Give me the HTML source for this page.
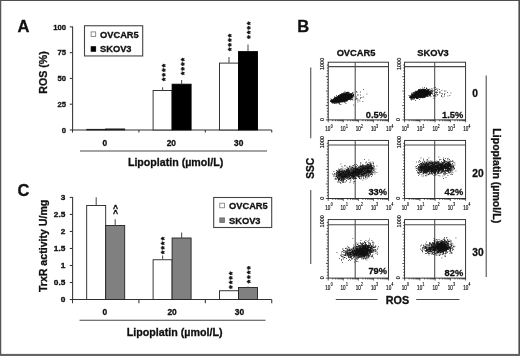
<!DOCTYPE html>
<html lang="en"><head><meta charset="utf-8"><title>Figure</title>
<style>
html,body{margin:0;padding:0;background:#fff;}
body{width:520px;height:356px;overflow:hidden;}
svg{display:block;font-family:"Liberation Sans",Arial,Helvetica,sans-serif;}
.b{font-weight:bold;stroke:#111;stroke-width:0.3px;}
.st{font-weight:bold;stroke:#111;stroke-width:0.45px;letter-spacing:1.3px;}
.ln{stroke:#333;stroke-width:1.05;fill:none;}
.eb{stroke:#555;stroke-width:1.1;fill:none;}
.th{stroke:#484848;stroke-width:1.05;fill:none;}
</style></head><body>
<svg width="520" height="356" viewBox="0 0 520 356">
<rect x="0" y="0" width="520" height="356" fill="#fff"/>
<rect x="0" y="0" width="520" height="1" fill="#505050"/>
<rect x="0" y="0" width="1.25" height="356" fill="#555"/>
<rect x="518.4" y="0" width="1.6" height="356" fill="#4c4c4c"/>
<rect x="0" y="353.9" width="520" height="2.1" fill="#646464"/>
<text x="17.6" y="31.6" font-size="16.5" text-anchor="start" class="b" fill="#111">A</text>
<text x="297.2" y="31.6" font-size="16.5" text-anchor="start" class="b" fill="#111">B</text>
<text x="17.6" y="196.2" font-size="16.5" text-anchor="start" class="b" fill="#111">C</text>
<line x1="72.6" y1="26.4" x2="72.6" y2="130.45" class="ln"/>
<line x1="72.6" y1="129.95" x2="271.75" y2="129.95" class="ln"/>
<line x1="69.8" y1="129.95" x2="72.6" y2="129.95" class="ln"/>
<text x="0" y="0" font-size="7.3" text-anchor="end" class="b" fill="#111" transform="translate(65.9 132.75) scale(1.05 1)">0</text>
<line x1="69.8" y1="104.19" x2="72.6" y2="104.19" class="ln"/>
<text x="0" y="0" font-size="7.3" text-anchor="end" class="b" fill="#111" transform="translate(65.9 106.99) scale(1.05 1)">25</text>
<line x1="69.8" y1="78.42" x2="72.6" y2="78.42" class="ln"/>
<text x="0" y="0" font-size="7.3" text-anchor="end" class="b" fill="#111" transform="translate(65.9 81.22) scale(1.05 1)">50</text>
<line x1="69.8" y1="52.66" x2="72.6" y2="52.66" class="ln"/>
<text x="0" y="0" font-size="7.3" text-anchor="end" class="b" fill="#111" transform="translate(65.9 55.46) scale(1.05 1)">75</text>
<line x1="69.8" y1="26.9" x2="72.6" y2="26.9" class="ln"/>
<text x="0" y="0" font-size="7.3" text-anchor="end" class="b" fill="#111" transform="translate(65.9 29.7) scale(1.05 1)">100</text>
<line x1="72.5" y1="129.95" x2="72.5" y2="132.55" class="ln"/>
<line x1="138.9" y1="129.95" x2="138.9" y2="132.55" class="ln"/>
<line x1="205.3" y1="129.95" x2="205.3" y2="132.55" class="ln"/>
<line x1="271.75" y1="129.95" x2="271.75" y2="132.55" class="ln"/>
<rect x="86.7" y="129.35" width="19" height="0.6" fill="#fff" stroke="#222" stroke-width="0.9"/>
<rect x="105.7" y="128.95" width="19" height="1" fill="#000" stroke="#222" stroke-width="0.9"/>
<rect x="153.1" y="90.5" width="19" height="39.45" fill="#fff" stroke="#222" stroke-width="0.9"/>
<rect x="172.1" y="84.2" width="19" height="45.75" fill="#000" stroke="#000" stroke-width="0.9"/>
<line x1="162.6" y1="87.3" x2="162.6" y2="90.5" class="eb"/>
<line x1="181.6" y1="80.1" x2="181.6" y2="84.2" class="eb"/>
<rect x="219.5" y="63.1" width="19" height="66.85" fill="#fff" stroke="#222" stroke-width="0.9"/>
<rect x="238.5" y="51.6" width="19" height="78.35" fill="#000" stroke="#000" stroke-width="0.9"/>
<line x1="229" y1="57" x2="229" y2="63.1" class="eb"/>
<line x1="248" y1="44.5" x2="248" y2="51.6" class="eb"/>
<text x="167.5" y="81" font-size="8.5" text-anchor="start" class="st" fill="#111" transform="rotate(-90 167.5 81)">****</text>
<text x="186.8" y="75" font-size="8.5" text-anchor="start" class="st" fill="#111" transform="rotate(-90 186.8 75)">****</text>
<text x="234.3" y="51" font-size="8.5" text-anchor="start" class="st" fill="#111" transform="rotate(-90 234.3 51)">****</text>
<text x="252.6" y="38.7" font-size="8.5" text-anchor="start" class="st" fill="#111" transform="rotate(-90 252.6 38.7)">****</text>
<text x="104.8" y="146" font-size="8.4" text-anchor="middle" class="b" fill="#111">0</text>
<text x="171.3" y="146" font-size="8.4" text-anchor="middle" class="b" fill="#111">20</text>
<text x="238.7" y="146" font-size="8.4" text-anchor="middle" class="b" fill="#111">30</text>
<line x1="80" y1="151" x2="267" y2="151" class="th"/>
<text x="175.6" y="166.3" font-size="10.65" text-anchor="middle" class="b" fill="#111">Lipoplatin (µmol/L)</text>
<text x="47.3" y="72.5" font-size="10.6" text-anchor="middle" class="b" fill="#111" transform="rotate(-90 47.3 72.5)">ROS (%)</text>
<rect x="84.5" y="25.75" width="58.2" height="30.2" fill="#fff" stroke="#444" stroke-width="1.1"/>
<rect x="91.1" y="31.9" width="4.6" height="4.6" fill="#fff" stroke="#777" stroke-width="0.8"/>
<rect x="91.1" y="46.7" width="4.6" height="4.6" fill="#000" stroke="#000" stroke-width="0.8"/>
<text x="100" y="37.8" font-size="9.3" text-anchor="start" class="b" fill="#111">OVCAR5</text>
<text x="100" y="52.3" font-size="9.3" text-anchor="start" class="b" fill="#111">SKOV3</text>
<line x1="72.6" y1="196.9" x2="72.6" y2="300.05" class="ln"/>
<line x1="72.6" y1="299.55" x2="271.75" y2="299.55" class="ln"/>
<line x1="69.8" y1="299.55" x2="72.6" y2="299.55" class="ln"/>
<text x="0" y="0" font-size="6.9" text-anchor="end" class="b" fill="#111" transform="translate(65.3 302.05) scale(1.2 1)">0</text>
<line x1="69.8" y1="282.53" x2="72.6" y2="282.53" class="ln"/>
<text x="0" y="0" font-size="6.9" text-anchor="end" class="b" fill="#111" transform="translate(65.3 285.03) scale(1.2 1)">0.5</text>
<line x1="69.8" y1="265.5" x2="72.6" y2="265.5" class="ln"/>
<text x="0" y="0" font-size="6.9" text-anchor="end" class="b" fill="#111" transform="translate(65.3 268) scale(1.2 1)">1</text>
<line x1="69.8" y1="248.47" x2="72.6" y2="248.47" class="ln"/>
<text x="0" y="0" font-size="6.9" text-anchor="end" class="b" fill="#111" transform="translate(65.3 250.97) scale(1.2 1)">1.5</text>
<line x1="69.8" y1="231.45" x2="72.6" y2="231.45" class="ln"/>
<text x="0" y="0" font-size="6.9" text-anchor="end" class="b" fill="#111" transform="translate(65.3 233.95) scale(1.2 1)">2</text>
<line x1="69.8" y1="214.43" x2="72.6" y2="214.43" class="ln"/>
<text x="0" y="0" font-size="6.9" text-anchor="end" class="b" fill="#111" transform="translate(65.3 216.93) scale(1.2 1)">2.5</text>
<line x1="69.8" y1="197.4" x2="72.6" y2="197.4" class="ln"/>
<text x="0" y="0" font-size="6.9" text-anchor="end" class="b" fill="#111" transform="translate(65.3 199.9) scale(1.2 1)">3</text>
<line x1="72.5" y1="299.55" x2="72.5" y2="303.25" class="ln"/>
<line x1="138.9" y1="299.55" x2="138.9" y2="303.25" class="ln"/>
<line x1="205.3" y1="299.55" x2="205.3" y2="303.25" class="ln"/>
<line x1="271.75" y1="299.55" x2="271.75" y2="303.25" class="ln"/>
<rect x="86.7" y="205.5" width="19" height="94.05" fill="#fff" stroke="#222" stroke-width="0.9"/>
<rect x="105.7" y="225.5" width="19" height="74.05" fill="#808080" stroke="#222" stroke-width="0.9"/>
<line x1="96.2" y1="197.25" x2="96.2" y2="205.5" class="eb"/>
<line x1="115.2" y1="219.25" x2="115.2" y2="225.5" class="eb"/>
<rect x="153.1" y="259.75" width="19" height="39.8" fill="#fff" stroke="#222" stroke-width="0.9"/>
<rect x="172.1" y="238" width="19" height="61.55" fill="#808080" stroke="#222" stroke-width="0.9"/>
<line x1="162.6" y1="255.5" x2="162.6" y2="259.75" class="eb"/>
<line x1="181.6" y1="232.5" x2="181.6" y2="238" class="eb"/>
<rect x="219.5" y="290.75" width="19" height="8.8" fill="#fff" stroke="#222" stroke-width="0.9"/>
<rect x="238.5" y="287.5" width="19" height="12.05" fill="#808080" stroke="#222" stroke-width="0.9"/>
<line x1="229" y1="290" x2="229" y2="290.75" class="eb"/>
<line x1="248" y1="286.6" x2="248" y2="287.5" class="eb"/>
<text x="115.4" y="211.2" font-size="8.6" text-anchor="middle" class="b" fill="#111">^</text>
<text x="115.4" y="215.9" font-size="8.6" text-anchor="middle" class="b" fill="#111">^</text>
<text x="166.7" y="254.1" font-size="8.5" text-anchor="start" class="st" fill="#111" transform="rotate(-90 166.7 254.1)">****</text>
<text x="234.7" y="288.7" font-size="8.5" text-anchor="start" class="st" fill="#111" transform="rotate(-90 234.7 288.7)">****</text>
<text x="253" y="283.3" font-size="8.5" text-anchor="start" class="st" fill="#111" transform="rotate(-90 253 283.3)">****</text>
<text x="104.9" y="315.1" font-size="8.4" text-anchor="middle" class="b" fill="#111">0</text>
<text x="172.1" y="315.1" font-size="8.4" text-anchor="middle" class="b" fill="#111">20</text>
<text x="239.4" y="315.1" font-size="8.4" text-anchor="middle" class="b" fill="#111">30</text>
<line x1="79.5" y1="320.2" x2="265.5" y2="320.2" class="th"/>
<text x="174.6" y="336.1" font-size="10.7" text-anchor="middle" class="b" fill="#111">Lipoplatin (µmol/L)</text>
<text x="46.8" y="245.9" font-size="10.6" text-anchor="middle" class="b" fill="#111" transform="rotate(-90 46.8 245.9)">TrxR activity U/mg</text>
<rect x="213.7" y="197.5" width="58" height="30" fill="#fff" stroke="#444" stroke-width="1.1"/>
<rect x="219.8" y="203.2" width="4.6" height="4.6" fill="#fff" stroke="#777" stroke-width="0.8"/>
<rect x="219.8" y="217.9" width="4.6" height="4.6" fill="#808080" stroke="#666" stroke-width="0.8"/>
<text x="229" y="208.9" font-size="9.3" text-anchor="start" class="b" fill="#111">OVCAR5</text>
<text x="229" y="223.6" font-size="9.3" text-anchor="start" class="b" fill="#111">SKOV3</text>
<text x="356" y="56.3" font-size="9.3" text-anchor="middle" class="b" fill="#111">OVCAR5</text>
<text x="433" y="56.3" font-size="9.3" text-anchor="middle" class="b" fill="#111">SKOV3</text>
<g>
<rect x="328.2" y="62.2" width="60.3" height="57.7" fill="none" stroke="#222" stroke-width="0.9"/>
<line x1="328.2" y1="66.6" x2="388.5" y2="66.6" class="th"/>
<line x1="355.2" y1="62.2" x2="355.2" y2="119.9" class="th"/>
<path d="M325.9 119.9h2.3M326.8 117.02h1.4M326.8 114.13h1.4M326.8 111.25h1.4M326.8 108.36h1.4M325.9 105.48h2.3M326.8 102.59h1.4M326.8 99.71h1.4M326.8 96.82h1.4M326.8 93.94h1.4M325.9 91.05h2.3M326.8 88.17h1.4M326.8 85.28h1.4M326.8 82.4h1.4M326.8 79.51h1.4M325.9 76.62h2.3M326.8 73.74h1.4M326.8 70.86h1.4M326.8 67.97h1.4M326.8 65.09h1.4M328.2 119.9v2.4M332.74 119.9v1.3M335.39 119.9v1.3M337.28 119.9v1.3M338.74 119.9v1.3M339.93 119.9v1.3M340.94 119.9v1.3M341.81 119.9v1.3M342.59 119.9v1.3M343.27 119.9v2.4M347.81 119.9v1.3M350.47 119.9v1.3M352.35 119.9v1.3M353.81 119.9v1.3M355.01 119.9v1.3M356.01 119.9v1.3M356.89 119.9v1.3M357.66 119.9v1.3M358.35 119.9v2.4M362.89 119.9v1.3M365.54 119.9v1.3M367.43 119.9v1.3M368.89 119.9v1.3M370.08 119.9v1.3M371.09 119.9v1.3M371.96 119.9v1.3M372.74 119.9v1.3M373.43 119.9v2.4M377.96 119.9v1.3M380.62 119.9v1.3M382.5 119.9v1.3M383.96 119.9v1.3M385.16 119.9v1.3M386.16 119.9v1.3M387.04 119.9v1.3M387.81 119.9v1.3M388.5 119.9v2.4" stroke="#222" stroke-width="0.75" fill="none"/>
<text x="324.3" y="70" font-size="5.5" text-anchor="start" fill="#111" transform="rotate(-90 324.3 70)" stroke="#111" stroke-width="0.2">1000</text>
<text x="323.9" y="121.1" font-size="5.5" text-anchor="start" fill="#111" transform="rotate(-90 323.9 121.1)" stroke="#111" stroke-width="0.2">0</text>
<text transform="translate(325.3 131.4) scale(0.72 1)" font-size="6.4" fill="#111" stroke="#111" stroke-width="0.2">10<tspan dy="-3.6" dx="0.4" font-size="4.6">0</tspan></text>
<text transform="translate(340.5 131.4) scale(0.72 1)" font-size="6.4" fill="#111" stroke="#111" stroke-width="0.2">10<tspan dy="-3.6" dx="0.4" font-size="4.6">1</tspan></text>
<text transform="translate(355.69 131.4) scale(0.72 1)" font-size="6.4" fill="#111" stroke="#111" stroke-width="0.2">10<tspan dy="-3.6" dx="0.4" font-size="4.6">2</tspan></text>
<text transform="translate(370.89 131.4) scale(0.72 1)" font-size="6.4" fill="#111" stroke="#111" stroke-width="0.2">10<tspan dy="-3.6" dx="0.4" font-size="4.6">3</tspan></text>
<text transform="translate(386.08 131.4) scale(0.72 1)" font-size="6.4" fill="#111" stroke="#111" stroke-width="0.2">10<tspan dy="-3.6" dx="0.4" font-size="4.6">4</tspan></text>
<path d="M330.65 100.99 L332.69 99.4 L335.48 97.64 L339.2 95.5 L342.92 93.64 L345.71 93.17 L349.43 93.82 L352.22 94.57 L352.69 96.15 L350.36 98.47 L347.57 100.15 L343.85 101.45 L339.2 102.29 L334.55 102.57 L331.76 102.19 Z" fill="#0c0c0c" stroke="#0c0c0c" stroke-width="0.5" stroke-linejoin="round"/>
<path d="M344.5 93.5h.8M340.5 101.5h.8M343.5 97h.8M350.5 96h.8M337.5 102h.8M344.5 96.5h.8M345.5 98h.8M341 94.5h.8M334 98.5h.8M347.5 95.5h.8M340.5 101.5h.8M348.5 98h.8M345.5 98.5h.8M342.5 100h.8M348.5 96.5h.8M331.5 101h.8M340 102h.8M343.5 100h.8M335.5 98.5h.8M353 95h.8M335 97.5h.8M340 98h.8M342 99h.8M340 97.5h.8M330 101.5h.8M341 98h.8M351.5 94.5h.8M342 94h.8M332.5 100.5h.8M335 98h.8M337 99.5h.8M352.5 97h.8M349 96.5h.8M348 99h.8M338.5 100.5h.8M339 102h.8M334.5 101h.8M338 98.5h.8M340.5 101h.8M335.5 99.5h.8M332.5 102.5h.8M338.5 102h.8M346.5 99.5h.8M344 101.5h.8M347 97.5h.8M350.5 96.5h.8M341 100h.8M350 94.5h.8M350.5 95h.8M333 99.5h.8M334 103h.8M342.5 97h.8M346 92.5h.8M347 99h.8M330.5 101h.8M340 101.5h.8M332 101.5h.8M348 98h.8M346.5 101.5h.8M330.5 101.5h.8M342.5 95.5h.8M347.5 95.5h.8M347.5 99.5h.8M347.5 97h.8M338 95.5h.8M337.5 100h.8M340 96.5h.8M331.5 101h.8M332.5 100.5h.8M337.5 98h.8M337 102.5h.8M335.5 103.5h.8M341.5 99h.8M343.5 97h.8M339.5 96h.8M348.5 99.5h.8M342.5 99.5h.8M346 100h.8M331 101h.8M344.5 99.5h.8M341.5 98h.8M348 95.5h.8M347 92.5h.8M340 97h.8M348 99h.8M347.5 96h.8M345.5 99h.8M341.5 97.5h.8M353 94.5h.8M341 97.5h.8M335.5 99.5h.8M353 93h.8M335 102h.8M341 96.5h.8M338.5 101.5h.8M351 93.5h.8M350.5 96.5h.8M338.5 97.5h.8M332 103h.8M340.5 96h.8M347 92.5h.8M347.5 99.5h.8M351 94h.8M337.5 100h.8M344.5 95.5h.8M334 102h.8M343.5 101h.8M339 98.5h.8M342 98.5h.8M341 97h.8M351 97.5h.8M340 100.5h.8M353 95.5h.8M343.5 99h.8M344 101h.8M331 102.5h.8M345.5 96.5h.8M345 100h.8M342 99h.8M338 97h.8M351 98h.8M341 100h.8M337.5 96.5h.8M342.5 94.5h.8M349.5 96.5h.8M336 102.5h.8M335 103h.8M352.5 98h.8M347 92.5h.8M338.5 96h.8M351.5 96h.8M350 97.5h.8M339 103h.8M339.5 101h.8M351.5 93.5h.8M335.5 100.5h.8M337.5 97h.8M338 96h.8M352 93.5h.8M344 97h.8M349 95h.8M346.5 98h.8M344.5 98h.8M346 93.5h.8M343 96h.8M333 101.5h.8M342.5 94h.8M342 99.5h.8M352.5 96h.8M336.5 100.5h.8M344 100h.8M335.5 98.5h.8M345.5 95h.8M349 98.5h.8M339 98h.8M333 100h.8M336.5 103.5h.8M340 95h.8M349 95h.8M338.5 102h.8M342 94.5h.8M339 98.5h.8M352.5 96h.8M349.5 94h.8M339.5 101h.8M342.5 97h.8M348 93h.8M343.5 98h.8M338.5 99h.8M341.5 97.5h.8M341.5 93.5h.8M340.5 94.5h.8M344.5 92h.8M342 96.5h.8M332.5 103h.8M352 92.5h.8M348.5 94h.8M347 94h.8M342.5 96h.8M333 100.5h.8M334.5 101.5h.8M345.5 95.5h.8M345.5 103.5h.8M345 96h.8M338 100.5h.8M347.5 92.5h.8M343.5 99.5h.8M342.5 97h.8M346 93h.8M334.5 98.5h.8M346 99h.8M340.5 95.5h.8M342.5 95.5h.8M336.5 102h.8M341 95.5h.8M352.5 95.5h.8M342 99h.8M331 100.5h.8M330 100.5h.8M347.5 98h.8M337 99h.8M346 95h.8M348.5 99.5h.8M353 95h.8M348 95.5h.8M334.5 101h.8M340.5 99.5h.8M339.5 100h.8M336.5 100h.8M332 102.5h.8M346 98h.8M339 99.5h.8M333 100.5h.8M344.5 100.5h.8M347.5 95.5h.8M336 100.5h.8M351 99h.8M339.5 101.5h.8M343 94.5h.8M350 94.5h.8M342 102h.8M338 103h.8M347.5 98.5h.8M331 99.5h.8M344 97h.8M350 99h.8M334 97h.8M347 100h.8M332.5 100h.8M349 99.5h.8M351 96h.8M342 95h.8M333 103h.8M347.5 98.5h.8M339 100h.8M345.5 98.5h.8M340 100h.8M343 100.5h.8M349 99h.8M344.5 98.5h.8M348 99.5h.8M339 97h.8M334.5 98.5h.8M334.5 100.5h.8M341.5 100h.8M347.5 99h.8M333.5 100.5h.8M339.5 100.5h.8M336 100h.8M334.5 101.5h.8M333.5 99.5h.8M341 100.5h.8M339 98h.8M340.5 95.5h.8M350 96h.8M336 98h.8M347 95.5h.8M332.5 100.5h.8M333 101h.8M345.5 95.5h.8M335 101h.8M332.5 101h.8M333 99.5h.8M339.5 101.5h.8M340 97.5h.8M339 97h.8M346 99.5h.8M342 97.5h.8M346 100.5h.8M337 97.5h.8M340 98h.8M348.5 97h.8M345 101.5h.8M336 97.5h.8M351.5 98.5h.8M346.5 100h.8M344 98h.8M345.5 94h.8M348 94h.8M346 95h.8M343 96h.8M336 95.5h.8M350 98h.8M345 95h.8M334 103.5h.8M347 94.5h.8M330.5 99h.8M346 92.5h.8M340.5 104.5h.8M348.5 95h.8M333.5 101.5h.8M337.5 99h.8M332.5 102h.8M343.5 98h.8M345.5 96.5h.8M339.5 98.5h.8M342.5 96.5h.8M337.5 98.5h.8M349.5 95.5h.8M340.5 97h.8M331.5 99.5h.8M344.5 94.5h.8M343.5 102h.8M351 94.5h.8M341 96.5h.8M350 98h.8M346.5 94.5h.8M349.5 98h.8M333.5 100.5h.8M339.5 98h.8M348 94h.8M349.5 97.5h.8M349.5 96.5h.8M341 102h.8M345.5 98.5h.8M334.5 97h.8M345 97h.8M347 98h.8M344.5 95h.8M341 95h.8M345.5 92.5h.8M336 101h.8M333 101h.8M341 95.5h.8M344.5 94.5h.8M348 99.5h.8M350 97h.8M339 103.5h.8M331 101.5h.8M341 96.5h.8M347 95.5h.8M349 96.5h.8M350 99h.8M351 95h.8M334 100h.8M344 98.5h.8M344.5 99h.8M347 96.5h.8M350 95h.8M352 97h.8M334 101.5h.8M339.5 99h.8M341.5 99h.8M336.5 101h.8M332 101.5h.8M342 98h.8M353 95.5h.8M336 101h.8M347.5 95h.8M343.5 97.5h.8M341.5 98.5h.8M344.5 102.5h.8M348.5 92.5h.8M339.5 96h.8M339.5 101.5h.8M344.5 96.5h.8M340.5 98h.8M344.5 95h.8M343.5 95h.8M352 97h.8M335.5 97.5h.8M336.5 97.5h.8M348.5 98.5h.8M333.5 100h.8M344 98h.8M334 98.5h.8M349.5 95h.8M337 101h.8M351 97.5h.8M340.5 100.5h.8M337 98.5h.8M349 96.5h.8M348 96.5h.8M351.5 94h.8M346 98.5h.8M343.5 95.5h.8M343.5 97h.8M346 96.5h.8M339.5 94.5h.8M342 98h.8M344 93.5h.8M351 95.5h.8M344.5 97h.8M341.5 97h.8M337 100.5h.8M346.5 98.5h.8M337.5 97.5h.8M341 99h.8M342.5 101.5h.8M343 93h.8M351 97.5h.8M342 98.5h.8M343 101h.8M343.5 94h.8M338 100h.8M349.5 98h.8M341.5 99.5h.8M344 97.5h.8M348 94h.8M341 100h.8M348 95.5h.8M331.5 101.5h.8M342 97.5h.8M340 99.5h.8M337.5 101h.8M346 96.5h.8M341.5 101.5h.8M352.5 95.5h.8M342 97h.8M332.5 101.5h.8M346.5 97.5h.8M348 94.5h.8M348 95.5h.8M339.5 104.5h.8M341.5 95h.8M347.5 95h.8M344.5 94.5h.8M342 99.5h.8M338.5 99h.8M333.5 102.5h.8M338.5 98h.8M332.5 101h.8M344.5 97h.8M347 94.5h.8M346 96h.8M347.5 100h.8M337.5 97h.8M345.5 93.5h.8M345.5 96h.8M350.5 99h.8M333 102.5h.8M347.5 93h.8M353.5 96.5h.8M346 98h.8M340.5 98h.8M347.5 92h.8M337 98h.8M343.5 95.5h.8M346.5 100h.8M342.5 97h.8M337.5 102.5h.8M336.5 100.5h.8M333 99h.8M334 100h.8M337 98h.8M333 100h.8M345.5 96h.8M350 97h.8M334.5 99.5h.8M348.5 97h.8M338.5 101.5h.8M344 98h.8M342 98.5h.8M343.5 93h.8M340 94.5h.8M348 98.5h.8M341.5 98h.8M346 101h.8M336 97h.8M339.5 97h.8M348.5 92.5h.8M338 98.5h.8M344 97.5h.8M347 98h.8M337.5 99h.8M343.5 97h.8M352 99.5h.8M341.5 95.5h.8M336 99h.8M343.5 94h.8M339 101h.8M349 94h.8M332 101.5h.8M348 94h.8M347.5 96.5h.8M352 97.5h.8M333 101.5h.8M346.5 93h.8M344.5 102h.8M346 96h.8M350 99h.8M333 102h.8M336.5 100h.8M350 97h.8M342 101.5h.8M334 100.5h.8M341.5 93.5h.8M334.5 101.5h.8M340.5 99h.8M345.5 96.5h.8M334 98h.8M344 99.5h.8M344.5 99.5h.8M337 99.5h.8M344 96h.8M341 97h.8M340 97h.8M347.5 98h.8M336.5 101.5h.8M351 96h.8M346 95.5h.8M344 101h.8M344.5 92h.8M335 97.5h.8M351 96h.8M345 96h.8M337 97.5h.8M344 100.5h.8M348.5 93h.8M341.5 98.5h.8M344 95.5h.8M347 100h.8M338.5 95.5h.8M341 98.5h.8M348 94h.8M343.5 94.5h.8M349 95h.8M345 95.5h.8M338.5 103h.8M360 98h.8M351 99.5h.8M360 98h.8M350 100h.8M360 95h.8M356.5 98.5h.8M355.5 99.5h.8M356.5 98.5h.8M356.5 92.5h.8M353 105h.8M357 100h.8M359.5 101h.8M357.5 95h.8M356 91.5h.8M355.5 99h.8M349.5 97h.8M358.5 100h.8M353 94.5h.8M350 93.5h.8M357.5 102h.8M352.5 100h.8M357.5 95h.8M363 89.5h.8M356 97h.8M362.5 101.5h.8M363 97h.8M366.5 94h.8M360 92h.8M361.5 97.5h.8" stroke="#111" stroke-width="0.8" fill="none"/>
<text x="0" y="0" font-size="9.9" text-anchor="end" class="b" fill="#111" transform="translate(387 117.5) scale(0.94 1)">0.5%</text>
</g>
<g>
<rect x="404.6" y="62.2" width="61" height="57.7" fill="none" stroke="#222" stroke-width="0.9"/>
<line x1="404.6" y1="66.6" x2="465.6" y2="66.6" class="th"/>
<line x1="434.7" y1="62.2" x2="434.7" y2="119.9" class="th"/>
<path d="M402.3 119.9h2.3M403.2 117.02h1.4M403.2 114.13h1.4M403.2 111.25h1.4M403.2 108.36h1.4M402.3 105.48h2.3M403.2 102.59h1.4M403.2 99.71h1.4M403.2 96.82h1.4M403.2 93.94h1.4M402.3 91.05h2.3M403.2 88.17h1.4M403.2 85.28h1.4M403.2 82.4h1.4M403.2 79.51h1.4M402.3 76.62h2.3M403.2 73.74h1.4M403.2 70.86h1.4M403.2 67.97h1.4M403.2 65.09h1.4M404.6 119.9v2.4M409.19 119.9v1.3M411.88 119.9v1.3M413.78 119.9v1.3M415.26 119.9v1.3M416.47 119.9v1.3M417.49 119.9v1.3M418.37 119.9v1.3M419.15 119.9v1.3M419.85 119.9v2.4M424.44 119.9v1.3M427.13 119.9v1.3M429.03 119.9v1.3M430.51 119.9v1.3M431.72 119.9v1.3M432.74 119.9v1.3M433.62 119.9v1.3M434.4 119.9v1.3M435.1 119.9v2.4M439.69 119.9v1.3M442.38 119.9v1.3M444.28 119.9v1.3M445.76 119.9v1.3M446.97 119.9v1.3M447.99 119.9v1.3M448.87 119.9v1.3M449.65 119.9v1.3M450.35 119.9v2.4M454.94 119.9v1.3M457.63 119.9v1.3M459.53 119.9v1.3M461.01 119.9v1.3M462.22 119.9v1.3M463.24 119.9v1.3M464.12 119.9v1.3M464.9 119.9v1.3M465.6 119.9v2.4" stroke="#222" stroke-width="0.75" fill="none"/>
<text x="400.7" y="70" font-size="5.5" text-anchor="start" fill="#111" transform="rotate(-90 400.7 70)" stroke="#111" stroke-width="0.2">1000</text>
<text x="400.3" y="121.1" font-size="5.5" text-anchor="start" fill="#111" transform="rotate(-90 400.3 121.1)" stroke="#111" stroke-width="0.2">0</text>
<text transform="translate(401.7 131.4) scale(0.72 1)" font-size="6.4" fill="#111" stroke="#111" stroke-width="0.2">10<tspan dy="-3.6" dx="0.4" font-size="4.6">0</tspan></text>
<text transform="translate(417.07 131.4) scale(0.72 1)" font-size="6.4" fill="#111" stroke="#111" stroke-width="0.2">10<tspan dy="-3.6" dx="0.4" font-size="4.6">1</tspan></text>
<text transform="translate(432.44 131.4) scale(0.72 1)" font-size="6.4" fill="#111" stroke="#111" stroke-width="0.2">10<tspan dy="-3.6" dx="0.4" font-size="4.6">2</tspan></text>
<text transform="translate(447.81 131.4) scale(0.72 1)" font-size="6.4" fill="#111" stroke="#111" stroke-width="0.2">10<tspan dy="-3.6" dx="0.4" font-size="4.6">3</tspan></text>
<text transform="translate(463.18 131.4) scale(0.72 1)" font-size="6.4" fill="#111" stroke="#111" stroke-width="0.2">10<tspan dy="-3.6" dx="0.4" font-size="4.6">4</tspan></text>
<path d="M409.72 97.19 L412.09 94.9 L414.73 92.7 L418.25 90.67 L420.89 89.53 L424.41 89.62 L427.05 90.32 L429.25 91.38 L429.69 93.14 L427.93 95.34 L425.29 96.48 L421.77 97.19 L417.37 97.8 L412.97 98.07 L410.33 97.89 Z" fill="#0c0c0c" stroke="#0c0c0c" stroke-width="0.5" stroke-linejoin="round"/>
<path d="M412 96.5h.8M423 91.5h.8M413.5 96.5h.8M419.5 91.5h.8M416 98h.8M413 96.5h.8M419 91h.8M429.5 94.5h.8M417.5 94.5h.8M423 95h.8M427.5 96.5h.8M416.5 93h.8M413.5 95.5h.8M423.5 91h.8M417 98.5h.8M425.5 92.5h.8M413.5 94h.8M423.5 92.5h.8M423 91.5h.8M413 96.5h.8M418 96h.8M428.5 94h.8M427.5 92.5h.8M419.5 93.5h.8M417 96.5h.8M426 94h.8M422.5 93.5h.8M425 89.5h.8M419.5 92h.8M413.5 94.5h.8M424.5 92h.8M426 88.5h.8M426 95h.8M418 92h.8M418 94.5h.8M417.5 94.5h.8M416.5 95.5h.8M424.5 92.5h.8M419.5 92.5h.8M418 98h.8M419 95.5h.8M424 93h.8M410.5 97h.8M426.5 95h.8M425.5 94h.8M419.5 94.5h.8M427.5 91h.8M427 94h.8M428 91.5h.8M419.5 92.5h.8M421.5 92h.8M430 94.5h.8M419.5 92.5h.8M414 98h.8M424.5 95h.8M419 97.5h.8M423 89h.8M423 90h.8M426 92.5h.8M428 90h.8M417.5 97h.8M425 91h.8M409 97.5h.8M421 92h.8M429.5 91.5h.8M417 96h.8M424.5 92.5h.8M429.5 89h.8M429.5 95h.8M425.5 93.5h.8M418.5 96.5h.8M415 97h.8M416 98h.8M416 94.5h.8M412.5 97h.8M419.5 89.5h.8M423 93.5h.8M416 92h.8M411.5 99.5h.8M428.5 94h.8M427 90h.8M420 93.5h.8M412 97.5h.8M418 96h.8M414 96.5h.8M420.5 91.5h.8M420 90.5h.8M424.5 90.5h.8M422.5 95h.8M427 93.5h.8M429.5 93h.8M413.5 95.5h.8M417.5 98.5h.8M419.5 92h.8M425.5 96h.8M410 96.5h.8M426 88.5h.8M422.5 92h.8M429 91.5h.8M414 97.5h.8M417 91.5h.8M422.5 96.5h.8M428 95h.8M422.5 98h.8M426 92.5h.8M416 96.5h.8M423.5 92h.8M412.5 96h.8M430.5 94h.8M418 93.5h.8M427 90.5h.8M411 98.5h.8M426.5 95.5h.8M429.5 96h.8M416 94.5h.8M421 95h.8M409 96h.8M419.5 95.5h.8M425 89.5h.8M411.5 94.5h.8M417 95.5h.8M425 91.5h.8M425 97h.8M424.5 96h.8M421.5 96h.8M428 90h.8M417 92h.8M429.5 91.5h.8M418 92.5h.8M411.5 98h.8M422.5 97h.8M424.5 93h.8M424 93h.8M420 91h.8M426.5 88.5h.8M416.5 98.5h.8M424 96.5h.8M423 95h.8M416.5 92h.8M411.5 97h.8M419 96h.8M417 96h.8M412 94.5h.8M424 95.5h.8M411 94.5h.8M422 97.5h.8M426.5 92h.8M428.5 92h.8M422.5 97h.8M422 93h.8M413.5 98h.8M428 94.5h.8M422 95.5h.8M420 96.5h.8M430.5 92h.8M418 90.5h.8M424 94h.8M418 93h.8M420.5 94.5h.8M422.5 95.5h.8M425 96h.8M424.5 96h.8M412.5 95h.8M416.5 96.5h.8M409 97h.8M419.5 97h.8M421.5 94.5h.8M408.5 95.5h.8M430.5 92.5h.8M413 94.5h.8M429 94.5h.8M421.5 97.5h.8M430 93.5h.8M418 93.5h.8M424 89.5h.8M423.5 97h.8M425 95h.8M422 92h.8M423 96h.8M414 99h.8M429.5 91.5h.8M427 89.5h.8M413 97.5h.8M412 95.5h.8M419.5 97h.8M422 97h.8M420.5 92h.8M426 88h.8M418.5 89.5h.8M427 90.5h.8M424 89h.8M423 94.5h.8M416.5 93.5h.8M426.5 96h.8M424 87.5h.8M419 99.5h.8M418.5 96.5h.8M417 92.5h.8M425.5 92.5h.8M416 94.5h.8M427.5 95h.8M414.5 96h.8M418.5 94.5h.8M416.5 95.5h.8M415.5 97.5h.8M424 94h.8M420.5 94.5h.8M414.5 96.5h.8M415 92h.8M425.5 89.5h.8M428 90h.8M424 91.5h.8M428 89.5h.8M423.5 91h.8M430 91.5h.8M410.5 99.5h.8M411.5 97.5h.8M420 91.5h.8M415 92h.8M416.5 91.5h.8M423.5 97h.8M419 96h.8M419.5 91.5h.8M417.5 93h.8M426.5 93h.8M428.5 89.5h.8M428.5 91.5h.8M429 93h.8M419 93h.8M424 94h.8M425 95h.8M423 96.5h.8M428 92h.8M413.5 94.5h.8M419 91.5h.8M419.5 95.5h.8M411.5 93.5h.8M422.5 90.5h.8M413 99h.8M417 95.5h.8M413 97h.8M413 93h.8M411.5 98.5h.8M420.5 94.5h.8M420 94.5h.8M424 97h.8M431.5 93.5h.8M418.5 93h.8M423.5 94.5h.8M424 93h.8M409.5 97.5h.8M424 92h.8M421.5 96h.8M422 92h.8M423.5 95.5h.8M414 93h.8M428.5 90.5h.8M424 97h.8M418.5 93.5h.8M429 95.5h.8M418 90.5h.8M422 92h.8M422.5 93h.8M412.5 97h.8M428 93.5h.8M422.5 91h.8M425 91.5h.8M413 95.5h.8M414.5 96h.8M411.5 98h.8M415.5 95h.8M419.5 91.5h.8M422.5 97h.8M424.5 92h.8M430 94.5h.8M424 92h.8M413 94.5h.8M423.5 95h.8M421 89.5h.8M413 92.5h.8M421.5 94.5h.8M423.5 92h.8M426 93h.8M421.5 89.5h.8M419.5 91.5h.8M420 91.5h.8M426.5 90.5h.8M419 91h.8M415 92h.8M418.5 92.5h.8M421 90.5h.8M423.5 92.5h.8M426.5 93.5h.8M411 98.5h.8M426 90.5h.8M428 92h.8M418.5 92.5h.8M415.5 95h.8M420.5 92h.8M425.5 92h.8M410.5 97.5h.8M414.5 93.5h.8M428.5 93.5h.8M418.5 96h.8M431 91h.8M414 93h.8M412.5 98.5h.8M414.5 95.5h.8M425 95.5h.8M423.5 92h.8M421 91.5h.8M429.5 89.5h.8M425.5 95.5h.8M420 94.5h.8M426.5 91h.8M424.5 91h.8M416 94.5h.8M415 97h.8M420.5 97h.8M417.5 97h.8M418 92h.8M412 98h.8M418 96h.8M420.5 96h.8M413.5 95.5h.8M417.5 90.5h.8M416 97h.8M421 97h.8M427.5 90h.8M416.5 98h.8M421.5 96.5h.8M420 89h.8M418 95.5h.8M417.5 94h.8M424.5 97h.8M418.5 89.5h.8M412.5 93h.8M424 97.5h.8M430 93.5h.8M427 96h.8M416 97h.8M422.5 92.5h.8M416 94.5h.8M418.5 90.5h.8M417 92.5h.8M425 94h.8M422 88h.8M417 94.5h.8M417 91.5h.8M420.5 97h.8M421 93h.8M418 95h.8M417.5 93.5h.8M418 93h.8M425.5 92h.8M416 97.5h.8M416.5 98h.8M410 97h.8M426.5 95h.8M410 98h.8M425 95.5h.8M411.5 93h.8M418 93.5h.8M424.5 91h.8M417 96.5h.8M422.5 90h.8M422 92.5h.8M417.5 92h.8M429.5 95h.8M418.5 95.5h.8M427.5 94h.8M416.5 95h.8M419.5 97.5h.8M422 92.5h.8M415.5 97.5h.8M411 97.5h.8M410 95.5h.8M422 93h.8M426 90.5h.8M428 92.5h.8M425.5 96h.8M424.5 90.5h.8M419.5 97h.8M418.5 93h.8M417 98.5h.8M419 89.5h.8M425 89.5h.8M424.5 89.5h.8M415 97h.8M410.5 97h.8M418.5 92h.8M416.5 98.5h.8M427 91h.8M429.5 93h.8M430 90.5h.8M423 93.5h.8M411 96.5h.8M423.5 91.5h.8M411 95h.8M419 94.5h.8M420.5 96h.8M430.5 92h.8M429.5 92.5h.8M424 94h.8M416 97.5h.8M427 96.5h.8M415 100.5h.8M420.5 91h.8M426.5 93.5h.8M430 92h.8M416.5 97h.8M414 98h.8M413.5 97.5h.8M430 92.5h.8M410.5 96.5h.8M419 94.5h.8M423 89.5h.8M416.5 98h.8M422 97.5h.8M420.5 95h.8M418 90.5h.8M428 92h.8M417 91.5h.8M422.5 97.5h.8M429.5 95h.8M416 91.5h.8M416.5 91.5h.8M418.5 90.5h.8M428 96h.8M424.5 96h.8M423.5 93h.8M415.5 91h.8M417 96h.8M419 90h.8M428 91h.8M418.5 90.5h.8M422 94.5h.8M426.5 90h.8M421 97h.8M416 98h.8M411 95h.8M411.5 97h.8M417 95.5h.8M417 97.5h.8M429 94.5h.8M430 95.5h.8M418.5 93h.8M421.5 92h.8M419.5 92.5h.8M420.5 90.5h.8M426 96h.8M419.5 93.5h.8M423 97h.8M412.5 94h.8M416.5 95.5h.8M413 95.5h.8M422.5 96h.8M429 92h.8M426.5 91.5h.8M425.5 96h.8M414 92h.8M417.5 95h.8M415 97h.8M418 90h.8M410 98h.8M422.5 91.5h.8M416 97.5h.8M423.5 91h.8M422.5 93.5h.8M428 90.5h.8M415 94.5h.8M414 94.5h.8M411 100h.8M413.5 95h.8M412 97h.8M414 93.5h.8M421 92.5h.8M411.5 97h.8M416 93h.8M424.5 94h.8M418.5 95h.8M412.5 98h.8M422 94.5h.8M431 93.5h.8M419.5 93.5h.8M417 92.5h.8M422.5 95.5h.8M412 97h.8M417.5 96h.8M423 94h.8M412 94.5h.8M422.5 90h.8M419.5 92h.8M420 95.5h.8M422.5 93h.8M420 91.5h.8M420.5 97h.8M423 90h.8M425 91h.8M429 94h.8M418 96h.8M428.5 90.5h.8M423 90.5h.8M416 97h.8M431 92.5h.8M426.5 92h.8M421 94.5h.8M424.5 92.5h.8M412.5 99.5h.8M427 90.5h.8M429 92.5h.8M415.5 95.5h.8M421 90h.8M420 98h.8M417 97h.8M422 94.5h.8M415 93h.8M413 96.5h.8M422.5 89.5h.8M422.5 97.5h.8M435.5 92h.8M437.5 94.5h.8M435 92.5h.8M433.5 98.5h.8M434 93.5h.8M435 96h.8M434 95.5h.8M439.5 91.5h.8M447 92.5h.8M450.5 93h.8M431 93.5h.8M431.5 88.5h.8M436 92h.8M431.5 90h.8M431 90.5h.8M441.5 90.5h.8M437 95h.8M442 94h.8M432 91h.8M444 91h.8M444 96h.8M432 92h.8M430 94h.8M430 94h.8M437 92.5h.8M433 95.5h.8M441 96.5h.8M431 91h.8M430 93h.8M432 94h.8M435 87.5h.8M436 92.5h.8M444.5 93.5h.8M447.5 96h.8M436 94h.8M449.5 95.5h.8M439.5 92.5h.8M444 94.5h.8M435 89.5h.8M434 95.5h.8M437 90.5h.8M436 89h.8M441.5 93.5h.8M430.5 96.5h.8M432.5 91.5h.8M442.5 97h.8M431.5 92.5h.8M439 89.5h.8M435.5 89.5h.8M435 94.5h.8M433.5 88h.8M433.5 96.5h.8M437.5 89h.8M439.5 93h.8M435.5 96h.8M432.5 94h.8M433.5 90.5h.8M432 90h.8M445.5 91h.8M441 95.5h.8" stroke="#111" stroke-width="0.8" fill="none"/>
<text x="0" y="0" font-size="9.9" text-anchor="end" class="b" fill="#111" transform="translate(463.2 117.5) scale(0.94 1)">1.5%</text>
</g>
<g>
<rect x="328.2" y="140.4" width="60.3" height="58.1" fill="none" stroke="#222" stroke-width="0.9"/>
<line x1="328.2" y1="144.9" x2="388.5" y2="144.9" class="th"/>
<line x1="355.2" y1="140.4" x2="355.2" y2="198.5" class="th"/>
<path d="M325.9 198.5h2.3M326.8 195.59h1.4M326.8 192.69h1.4M326.8 189.78h1.4M326.8 186.88h1.4M325.9 183.97h2.3M326.8 181.07h1.4M326.8 178.16h1.4M326.8 175.26h1.4M326.8 172.35h1.4M325.9 169.45h2.3M326.8 166.55h1.4M326.8 163.64h1.4M326.8 160.74h1.4M326.8 157.83h1.4M325.9 154.93h2.3M326.8 152.02h1.4M326.8 149.12h1.4M326.8 146.21h1.4M326.8 143.31h1.4M328.2 198.5v2.4M332.74 198.5v1.3M335.39 198.5v1.3M337.28 198.5v1.3M338.74 198.5v1.3M339.93 198.5v1.3M340.94 198.5v1.3M341.81 198.5v1.3M342.59 198.5v1.3M343.27 198.5v2.4M347.81 198.5v1.3M350.47 198.5v1.3M352.35 198.5v1.3M353.81 198.5v1.3M355.01 198.5v1.3M356.01 198.5v1.3M356.89 198.5v1.3M357.66 198.5v1.3M358.35 198.5v2.4M362.89 198.5v1.3M365.54 198.5v1.3M367.43 198.5v1.3M368.89 198.5v1.3M370.08 198.5v1.3M371.09 198.5v1.3M371.96 198.5v1.3M372.74 198.5v1.3M373.43 198.5v2.4M377.96 198.5v1.3M380.62 198.5v1.3M382.5 198.5v1.3M383.96 198.5v1.3M385.16 198.5v1.3M386.16 198.5v1.3M387.04 198.5v1.3M387.81 198.5v1.3M388.5 198.5v2.4" stroke="#222" stroke-width="0.75" fill="none"/>
<text x="324.3" y="148.2" font-size="5.5" text-anchor="start" fill="#111" transform="rotate(-90 324.3 148.2)" stroke="#111" stroke-width="0.2">1000</text>
<text x="323.9" y="199.7" font-size="5.5" text-anchor="start" fill="#111" transform="rotate(-90 323.9 199.7)" stroke="#111" stroke-width="0.2">0</text>
<text transform="translate(325.3 210) scale(0.72 1)" font-size="6.4" fill="#111" stroke="#111" stroke-width="0.2">10<tspan dy="-3.6" dx="0.4" font-size="4.6">0</tspan></text>
<text transform="translate(340.5 210) scale(0.72 1)" font-size="6.4" fill="#111" stroke="#111" stroke-width="0.2">10<tspan dy="-3.6" dx="0.4" font-size="4.6">1</tspan></text>
<text transform="translate(355.69 210) scale(0.72 1)" font-size="6.4" fill="#111" stroke="#111" stroke-width="0.2">10<tspan dy="-3.6" dx="0.4" font-size="4.6">2</tspan></text>
<text transform="translate(370.89 210) scale(0.72 1)" font-size="6.4" fill="#111" stroke="#111" stroke-width="0.2">10<tspan dy="-3.6" dx="0.4" font-size="4.6">3</tspan></text>
<text transform="translate(386.08 210) scale(0.72 1)" font-size="6.4" fill="#111" stroke="#111" stroke-width="0.2">10<tspan dy="-3.6" dx="0.4" font-size="4.6">4</tspan></text>
<path d="M340 175h.8M361.5 172.5h.8M348.5 173.5h.8M339.5 175h.8M369.5 171.5h.8M347 173.5h.8M360 168.5h.8M363.5 172h.8M335 178.5h.8M341.5 177h.8M349 176.5h.8M355.5 169.5h.8M343 173.5h.8M334.5 179h.8M344.5 172h.8M340.5 174.5h.8M347.5 173h.8M352.5 175.5h.8M339 177.5h.8M341.5 176h.8M358.5 176h.8M352 175h.8M370 171h.8M342.5 173.5h.8M358.5 170.5h.8M338 172h.8M362.5 174.5h.8M342.5 176h.8M357.5 174h.8M363.5 173.5h.8M355 174h.8M351.5 173h.8M347 177.5h.8M351 172.5h.8M372.5 168h.8M364 169h.8M368.5 165h.8M361 174h.8M344 179h.8M341 176.5h.8M340 174h.8M351 169h.8M342.5 182.5h.8M349 175h.8M360 166.5h.8M348.5 172h.8M348.5 171h.8M366.5 170h.8M367.5 175h.8M365 168h.8M368 175h.8M353.5 175.5h.8M366 165h.8M361 172.5h.8M358 174.5h.8M343.5 179h.8M345.5 172h.8M366.5 172.5h.8M353 173h.8M355 173h.8M355.5 172h.8M345.5 175h.8M339.5 171.5h.8M355 175h.8M367.5 176.5h.8M371.5 173.5h.8M336 170.5h.8M357 170h.8M341 174.5h.8M353 177.5h.8M356.5 167.5h.8M361 168.5h.8M356 178.5h.8M352 174.5h.8M364 168.5h.8M363 168.5h.8M349.5 174.5h.8M351 176h.8M366 175h.8M369 170.5h.8M353 179.5h.8M368.5 171.5h.8M363 178h.8M345.5 176h.8M336 176.5h.8M367 173h.8M362.5 169.5h.8M345.5 174.5h.8M357.5 171.5h.8M359.5 171.5h.8M350 173.5h.8M336 179h.8M365 169h.8M357 171.5h.8M351 177.5h.8M337.5 175h.8M353.5 173.5h.8M362.5 166.5h.8M337 172h.8M371 168h.8M366 168h.8M370 163.5h.8M343.5 173h.8M347 169.5h.8M343.5 172.5h.8M359 169.5h.8M374 169h.8M354 164.5h.8M356 172.5h.8M352.5 165.5h.8M337 182h.8M339.5 174.5h.8M359.5 169h.8M352 178h.8M353.5 171h.8M361 169.5h.8M371 173h.8M349.5 178h.8M339.5 173.5h.8M371 169.5h.8M355.5 171.5h.8M364.5 173h.8M371 170h.8M344.5 176.5h.8M360.5 170.5h.8M363.5 170.5h.8M365.5 168h.8M369.5 167h.8M339 171h.8M340 170h.8M360.5 163h.8M350 167h.8M346 170h.8M364.5 169.5h.8M345 174h.8M368 168h.8M360.5 170h.8M363.5 168h.8M341 180.5h.8M353.5 171h.8M339.5 181h.8M346.5 176.5h.8M340 174h.8M342.5 169.5h.8M351 173.5h.8M350.5 179h.8M361.5 167h.8M363.5 173h.8M347.5 179h.8M344.5 177h.8M365 167.5h.8M354 169h.8M348.5 171h.8M346.5 175.5h.8M354.5 170.5h.8M354.5 172h.8M352 167.5h.8M353 176h.8M365 168h.8M346 174h.8M348.5 175h.8M370.5 167.5h.8M374.5 174h.8M360.5 169h.8M375.5 169h.8M363.5 175h.8M344 171h.8M354 178h.8M368.5 174h.8M344 177h.8M360 166.5h.8M358.5 172.5h.8M337 175.5h.8M355 172h.8M348.5 174.5h.8M367 167.5h.8M352.5 175.5h.8M349 176.5h.8M357 173h.8M341.5 179.5h.8M369 175h.8M349.5 172.5h.8M342 177h.8M358.5 176.5h.8M365.5 171.5h.8M355 170.5h.8M338.5 176h.8M361 169.5h.8M353 174.5h.8M344 171.5h.8M360.5 176h.8M356 169.5h.8M360.5 179h.8M357 171h.8M340.5 177h.8M368.5 170h.8M367 165h.8M349 178.5h.8M346.5 171h.8M359.5 169h.8M368 176h.8M338 175h.8M354 176h.8M350 178.5h.8M355.5 168.5h.8M338.5 173.5h.8M355 172.5h.8M359.5 167h.8M351.5 168.5h.8M341.5 174h.8M363.5 173h.8M351 175h.8M361 170h.8M366 173.5h.8M344 176h.8M355.5 178.5h.8M370 174.5h.8M359.5 170.5h.8M370 169h.8M348.5 175.5h.8M352.5 172.5h.8M366 170.5h.8M368.5 171.5h.8M341 176.5h.8M344.5 178.5h.8M352.5 176.5h.8M363 168h.8M369 165.5h.8M353.5 174h.8M367 169h.8M369.5 169h.8M362.5 174.5h.8M365 173.5h.8M362 175h.8M353.5 172.5h.8M363.5 171h.8M343.5 177.5h.8M343.5 173.5h.8M359 170h.8M344.5 171h.8M368.5 172h.8M368.5 176.5h.8M369.5 173h.8M373.5 172.5h.8M363 166.5h.8M341.5 174.5h.8M363.5 168h.8M358.5 174.5h.8M340.5 174h.8M361 172h.8M347 173.5h.8M358.5 174.5h.8M356 176h.8M370.5 169h.8M360.5 167h.8M339.5 174h.8M358 169.5h.8M339.5 174.5h.8M345 182h.8M363.5 172.5h.8M366 166.5h.8M338 179.5h.8M337 176.5h.8M376.5 172.5h.8M366 169h.8M358.5 171.5h.8M338.5 175h.8M343 172.5h.8M347.5 177.5h.8M355 169.5h.8M348.5 173h.8M346.5 174.5h.8M350 175.5h.8M340.5 173.5h.8M365.5 165.5h.8M363 175.5h.8M341.5 173.5h.8M365.5 172.5h.8M366 162h.8M342 176.5h.8M361 166.5h.8M361.5 170.5h.8M366.5 166.5h.8M354 172.5h.8M359 174h.8M349.5 175h.8M348.5 175.5h.8M351 173h.8M337 173h.8M350.5 171.5h.8M350 174h.8M369.5 173h.8M353 175h.8M366.5 172.5h.8M361.5 167.5h.8M352 178.5h.8M367.5 168.5h.8M361 170.5h.8M353.5 173.5h.8M366.5 172.5h.8M356 173h.8M368.5 168.5h.8M356.5 173h.8M369 168h.8M344.5 178h.8M345 176.5h.8M342.5 172h.8M371.5 168h.8M360 173.5h.8M357 169.5h.8M341 178h.8M343 179h.8M366.5 169.5h.8M358 177h.8M343 178h.8M369.5 171h.8M343 177.5h.8M350.5 170h.8M351.5 176.5h.8M364.5 173.5h.8M348.5 173h.8M360 173h.8M343 172.5h.8M359 172.5h.8M346 176.5h.8M360.5 171h.8M361 171.5h.8M348.5 179.5h.8M356 174h.8M347.5 176.5h.8M364.5 165.5h.8M367 168.5h.8M340 177.5h.8M356 168.5h.8M354 181.5h.8M363 171.5h.8M372 175h.8M339.5 173h.8M368 171h.8M344.5 166h.8M358 169.5h.8M353 177.5h.8M337 174h.8M339.5 178.5h.8M348 177.5h.8M358.5 171.5h.8M368.5 171h.8M343 174.5h.8M354.5 166h.8M357.5 173.5h.8M338 177.5h.8M358 170h.8M348.5 169.5h.8M338.5 170.5h.8M354 176.5h.8M349.5 175h.8M353 175h.8M354 171.5h.8M366.5 171.5h.8M371.5 163.5h.8M359.5 170h.8M358.5 173h.8M341.5 173h.8M350.5 173h.8M361.5 165.5h.8M367.5 171.5h.8M362 168h.8M352.5 177.5h.8M353.5 170h.8M344.5 174h.8M366.5 174h.8M352.5 168.5h.8M355.5 174h.8M368 167h.8M343.5 182.5h.8M339 172h.8M354 171.5h.8M361.5 175h.8M343.5 178h.8M359.5 167h.8M369.5 169.5h.8M345.5 172.5h.8M355.5 170.5h.8M357.5 168.5h.8M349.5 174h.8M370 164.5h.8M347 170.5h.8M363 175.5h.8M358.5 173h.8M359.5 170h.8M339.5 172.5h.8M354.5 171h.8M347 168h.8M353 172.5h.8M339.5 176.5h.8M356.5 174h.8M357.5 175h.8M363.5 169.5h.8M346 172.5h.8M374 167h.8M367 170.5h.8M351.5 175.5h.8M372.5 162h.8M345 175h.8M349.5 175h.8M345.5 170.5h.8M357.5 176.5h.8M360 168h.8M353.5 173.5h.8M352 171.5h.8M369 165h.8M364 170.5h.8M344.5 165.5h.8M343 175h.8M348.5 173h.8M365 176h.8M348.5 175.5h.8M366.5 167h.8M336 175h.8M372 168.5h.8M353 172.5h.8M370.5 170h.8M370.5 173h.8M344.5 171h.8M370.5 167.5h.8M368 170h.8M370.5 172h.8M358.5 176.5h.8M364.5 174.5h.8M338.5 173h.8M350 178.5h.8M361.5 172.5h.8M372.5 167h.8M340.5 174h.8M359.5 166h.8M347 171.5h.8M344.5 174h.8M354.5 171.5h.8M368 170.5h.8M349 171.5h.8M341 178h.8M343 180.5h.8M367.5 168.5h.8M337 171.5h.8M352 173.5h.8M339.5 171h.8M348 176h.8M342 178.5h.8M371 171.5h.8M355.5 175h.8M360.5 176h.8M346.5 176.5h.8M353.5 172h.8M361.5 168.5h.8M338.5 172h.8M350.5 174h.8M357 173h.8M348.5 171.5h.8M369.5 168.5h.8M342 171h.8M340.5 164h.8M352.5 171.5h.8M360.5 169.5h.8M350 173h.8M344.5 175h.8M361.5 169h.8M338 176h.8M355 173h.8M361.5 177h.8M353.5 172h.8M357 171.5h.8M365.5 170h.8M349.5 171h.8M338.5 180h.8M368.5 173h.8M348.5 173h.8M357 171.5h.8M367.5 165h.8M346.5 175.5h.8M359 169.5h.8M348.5 172h.8M337.5 178.5h.8M344 173.5h.8M367.5 170h.8M339.5 170h.8M364.5 169h.8M342 178.5h.8M364 170h.8M368.5 171.5h.8M339.5 175h.8M364 166.5h.8M370.5 162h.8M374 171h.8M344.5 177h.8M373.5 170h.8M344.5 174.5h.8M357.5 171h.8M346.5 177h.8M362.5 169h.8M365.5 166h.8M350.5 172.5h.8M340.5 176.5h.8M337.5 171h.8M360.5 176h.8M364 169h.8M355.5 173.5h.8M344 171h.8M370.5 171.5h.8M356.5 173h.8M351.5 174h.8M354.5 169h.8M364.5 170.5h.8M371 167.5h.8M342.5 179.5h.8M344.5 175h.8M338 179h.8M346 174h.8M345.5 177h.8M349.5 174h.8M365 166.5h.8M339.5 182.5h.8M355 178h.8M370.5 172h.8M358.5 173.5h.8M356.5 168h.8M358 172.5h.8M339 170h.8M372 171.5h.8M343 176.5h.8M367.5 164.5h.8M352 172h.8M356 170h.8M354 176h.8M345 176h.8M357 169h.8M366 168h.8M357 174h.8M344.5 176h.8M367 168.5h.8M342 173h.8M341 177.5h.8M361.5 173.5h.8M343 172.5h.8M351 172h.8M347.5 172.5h.8M371 165h.8M357 165.5h.8M370.5 167h.8M355.5 173h.8M365.5 175h.8M351.5 175h.8M370 168.5h.8M365.5 175h.8M356.5 171h.8M352 173.5h.8M355.5 173.5h.8M355.5 173h.8M351.5 176h.8M355 173.5h.8M332 174h.8M346.5 176.5h.8M359 171.5h.8M339 177h.8M348.5 175.5h.8M368 171h.8M368 166.5h.8M365.5 171h.8M367 169h.8M339 172.5h.8M359.5 178.5h.8M350.5 180h.8M345.5 178h.8M372.5 170h.8M367 171.5h.8M362.5 165.5h.8M342.5 173h.8M361 172.5h.8M354 174.5h.8M355.5 172.5h.8M363 168h.8M340 175.5h.8M342 182h.8M359 171h.8M369.5 168h.8M339.5 174h.8M348 176.5h.8M355 173h.8M341 171.5h.8M349 167h.8M370 169h.8M349 174h.8M363.5 169.5h.8M359 170h.8M355 174.5h.8M355 170.5h.8M347.5 174h.8M362 174h.8M353 171.5h.8M367.5 170.5h.8M342.5 176.5h.8M369.5 173.5h.8M336 176h.8M338.5 174h.8M349.5 169h.8M342 175.5h.8M341.5 169h.8M371 168h.8M364 167h.8M370.5 168h.8M347.5 177h.8M359 171h.8M339.5 175h.8M347 173h.8M366.5 167.5h.8M361 171h.8M358 168h.8M342.5 179.5h.8M341.5 176.5h.8M362.5 170h.8M369 168.5h.8M357.5 169.5h.8M346 170h.8M361 175h.8M345 175h.8M336 176h.8M358.5 168.5h.8M359 174h.8M353.5 172h.8M361.5 171h.8M347.5 168h.8M370 170.5h.8M363.5 171.5h.8M360 174h.8M362.5 173.5h.8M362.5 167h.8M341.5 177.5h.8M336 173h.8M364 168h.8M351.5 172.5h.8M355.5 171h.8M337 177.5h.8M356.5 172h.8M369 168h.8M336.5 172h.8M359 171.5h.8M353.5 169h.8M343 179.5h.8M358.5 176h.8M370.5 165.5h.8M367.5 171.5h.8M365 172h.8M367 169.5h.8M334 174h.8M359 170.5h.8M358.5 174h.8M342 175h.8M356 166.5h.8M368 172.5h.8M358 170.5h.8M339.5 173.5h.8M366.5 168.5h.8M353.5 176.5h.8M360 172h.8M351 171h.8M339.5 176h.8M340.5 183.5h.8M346 171.5h.8M336 176.5h.8M367.5 171h.8M355.5 172.5h.8M357.5 176h.8M341.5 181h.8M353.5 172.5h.8M352.5 175.5h.8M338 176.5h.8M373.5 166h.8M343.5 172.5h.8M362.5 167.5h.8M363.5 176.5h.8M355 166.5h.8M344.5 176h.8M341.5 171.5h.8M349.5 171.5h.8M338.5 179.5h.8M354 172.5h.8M343.5 172h.8M373 163.5h.8M346 174h.8M352.5 174.5h.8M369.5 166.5h.8M347.5 173.5h.8M366.5 169h.8M368 167h.8M349.5 171h.8M368.5 168h.8M337.5 171.5h.8M360.5 171.5h.8M367 172.5h.8M372.5 173h.8M336 174.5h.8M341.5 166.5h.8M365.5 162.5h.8M357.5 170h.8M362 167.5h.8M343 177h.8M366.5 167.5h.8M372 169h.8M354 176h.8M347 178h.8M353.5 170h.8M354.5 171.5h.8M354 172.5h.8M338.5 175.5h.8M357.5 174.5h.8M342.5 174h.8M361 173h.8M351 169.5h.8M350 175.5h.8M348 173h.8M340 174.5h.8M365.5 171.5h.8M351.5 172h.8M352 176.5h.8M345.5 171.5h.8M361.5 174.5h.8M355 168h.8M353 173.5h.8M343.5 176.5h.8M358.5 177.5h.8M346 176h.8M340.5 171.5h.8M346.5 169.5h.8M349 170.5h.8M354.5 174h.8M368.5 173h.8M340 169h.8M349 176.5h.8M346.5 175.5h.8M355.5 171.5h.8M373 163h.8M367.5 170h.8M372.5 165.5h.8M357 173h.8M340.5 174.5h.8M343 172h.8M367.5 174h.8M347 172h.8M357.5 171h.8M337.5 176h.8M366 172h.8M348 171.5h.8M360 171.5h.8M360.5 171h.8M355.5 171h.8M354.5 174h.8M340.5 172.5h.8M349.5 175.5h.8M370 166.5h.8M356.5 171.5h.8M338 174h.8M357 172h.8M340.5 171.5h.8M369.5 166h.8M340 174.5h.8M371 170.5h.8M354.5 175.5h.8M338.5 174.5h.8M364 175h.8M356 164.5h.8M346 171h.8M368.5 164.5h.8M359 178.5h.8M372.5 168h.8M362.5 165.5h.8M363 171.5h.8M362.5 167.5h.8M367.5 170h.8M357.5 175.5h.8M341 173.5h.8M341 170.5h.8M348.5 171.5h.8M367 169.5h.8M351 175.5h.8M338 169h.8M361.5 170h.8M343.5 177h.8M368 168h.8M363.5 167h.8M368 172.5h.8M354 169h.8M348.5 171h.8M353 176.5h.8M360 175h.8M360 172h.8M341.5 173h.8M346 175h.8M343.5 171.5h.8M339 179.5h.8M343 181h.8M353.5 177h.8M338 175h.8M338.5 175h.8M358.5 167h.8M359 173.5h.8M361.5 170h.8M352 176.5h.8M363.5 168.5h.8M364 175h.8M347.5 174.5h.8M363.5 176h.8M342.5 180.5h.8M368.5 175.5h.8M340 175h.8M338.5 174h.8M364.5 170.5h.8M352 174.5h.8M348.5 170h.8M371 167.5h.8M370.5 166.5h.8M357 174.5h.8M346.5 178h.8M348 169.5h.8M370 172.5h.8M353.5 171h.8M359 174.5h.8M359 173.5h.8M366.5 170.5h.8M355 169.5h.8M350.5 174h.8M338 175.5h.8M358 174h.8M346.5 172h.8M367 167.5h.8M361.5 171.5h.8M361.5 173.5h.8M353 170.5h.8M368 169h.8M366.5 168h.8M363.5 165.5h.8M340 173.5h.8M363.5 167.5h.8M368.5 160h.8M366.5 167.5h.8M358.5 173.5h.8M355.5 174.5h.8M367.5 165.5h.8M358 171.5h.8M362.5 171h.8M372 172.5h.8M341 181h.8M338.5 170h.8M368.5 177h.8M345.5 176.5h.8M355.5 171h.8M337.5 177.5h.8M367 178h.8M362.5 175.5h.8M347.5 173.5h.8M366 166h.8M360.5 172.5h.8M347.5 170h.8M343 178.5h.8M340.5 176h.8M342.5 174h.8M363 168h.8M359 171.5h.8M352 172.5h.8M370 172.5h.8M344.5 169h.8M365.5 179h.8M358 171.5h.8M337.5 172.5h.8M363.5 169.5h.8M354.5 176.5h.8M348.5 174.5h.8M358.5 170h.8M347.5 175h.8M367.5 169h.8M352.5 169h.8M372.5 168.5h.8M340.5 179h.8M338.5 179h.8M361.5 172.5h.8M350 174h.8M341 169h.8M339 170h.8M359.5 177h.8M345.5 176.5h.8M347.5 171h.8M342 177.5h.8M340 171.5h.8M344 175h.8M364.5 167h.8M363.5 173h.8M361 170.5h.8M353.5 168.5h.8M345.5 174h.8M333 176h.8M363.5 174h.8M355 170.5h.8M352 167h.8M355 167.5h.8M342 177.5h.8M347.5 174h.8M371 166h.8M362.5 170h.8M361 170.5h.8M367.5 167h.8M342.5 172h.8M346 175h.8M370.5 166.5h.8M343.5 175h.8M344 176h.8M356.5 175.5h.8M352.5 177.5h.8M353 173.5h.8M364 168.5h.8M345.5 172.5h.8M368.5 166.5h.8M339.5 178.5h.8M373.5 172h.8M343.5 173.5h.8M365 168.5h.8M348.5 174.5h.8M341 177h.8M369 167h.8M371.5 170.5h.8M350.5 172h.8M360.5 169.5h.8M350 173.5h.8M358.5 171.5h.8M344.5 176.5h.8M366 168.5h.8M365 171h.8M345.5 169h.8M361 172h.8M359 171h.8M367.5 168h.8M351 167h.8M356 171.5h.8M357 172.5h.8M351 176h.8M344.5 179.5h.8M364 172h.8M338 175h.8M363.5 172h.8M367.5 167h.8M352 175.5h.8M353 169.5h.8M359.5 169h.8M345 174.5h.8M358.5 173h.8M360 166.5h.8M342.5 175.5h.8M360 170.5h.8M367 170h.8M358 173h.8M360.5 170h.8M355 171h.8M369.5 168h.8M346 176h.8M349 166.5h.8M358.5 170.5h.8M362 171h.8M341.5 179.5h.8M341 179h.8M356.5 172.5h.8M360 172h.8M349.5 182.5h.8M339.5 176.5h.8M359.5 170h.8M339 175h.8M369.5 165h.8M344 176h.8M349.5 173h.8M354 172.5h.8M353.5 167h.8M361 174.5h.8M344 174h.8M345.5 177h.8M367 170.5h.8M345 172h.8M360 165h.8M353 172h.8M361 166.5h.8M345 176h.8M357.5 170h.8M358.5 171h.8M368.5 168.5h.8M350.5 175h.8M343.5 176h.8M344.5 172.5h.8M362.5 168h.8M367 166.5h.8M344 173.5h.8M369 170.5h.8M347 176h.8M373 168.5h.8M372.5 167.5h.8M359 177h.8M353 165.5h.8M357 168h.8M341 175.5h.8M345.5 174h.8M341.5 175.5h.8M359 173.5h.8M359.5 171h.8M359.5 169.5h.8M354 172.5h.8M353.5 181.5h.8M350.5 168.5h.8M362 171h.8M367.5 171h.8M335.5 176.5h.8M372 167.5h.8M358 175h.8M358.5 177h.8M340.5 178.5h.8M373 170.5h.8M363 177h.8M338.5 178.5h.8M369.5 172h.8M371.5 168h.8M337.5 176h.8M342.5 180h.8M358.5 173.5h.8M342.5 172.5h.8M359 169.5h.8M345 176.5h.8M356.5 170h.8M362 170.5h.8M361 171h.8M357 176h.8M353 168.5h.8M367.5 168h.8M371 166.5h.8M341.5 174.5h.8M371.5 167h.8M366.5 166.5h.8M358 173h.8M362 171.5h.8M357 174.5h.8M364 167h.8M363.5 172h.8M350.5 177.5h.8M367.5 174.5h.8M348 174h.8M362.5 180h.8M361.5 176h.8M370.5 174.5h.8M352.5 176h.8M353.5 172h.8M336.5 172.5h.8M358.5 175.5h.8M338.5 176h.8M355 172h.8M356 172h.8M371 168.5h.8M357 171.5h.8M362 165h.8M361.5 170h.8M365 177h.8M368 168.5h.8M347 173h.8M336.5 175h.8M361 174.5h.8M361 174.5h.8M367 172.5h.8M354.5 170.5h.8M345.5 177h.8M345 174h.8M362 171.5h.8M349.5 173h.8M368.5 167.5h.8M339 178.5h.8M361.5 174h.8M343 173h.8M354.5 168h.8M338.5 172.5h.8M365 169h.8M368 174h.8M338 172.5h.8M351 173h.8M343.5 170.5h.8M340 182.5h.8M347 178h.8M355.5 169.5h.8M342.5 177h.8M353 177.5h.8M368 170h.8M341 176.5h.8M350.5 177h.8M372.5 168h.8M362 174h.8M368.5 168.5h.8M345 171.5h.8M366.5 171.5h.8M336.5 170.5h.8M352 173h.8M369.5 167h.8M349.5 166h.8M353 183h.8M350.5 174h.8M364.5 170h.8M365 172h.8M368 168.5h.8M362.5 164.5h.8M368 169h.8M335.5 176h.8M339 175.5h.8M371.5 169.5h.8M362 166.5h.8M358 175h.8M361 171.5h.8M362.5 171h.8M352.5 167.5h.8M348.5 170.5h.8M358 176.5h.8M369.5 166.5h.8M347 175.5h.8M333.5 174.5h.8M341 172.5h.8M370 164.5h.8M362.5 171.5h.8M368.5 166h.8M342 175h.8M347.5 174h.8M365.5 164h.8M371 174h.8M347.5 171.5h.8M362.5 175.5h.8M350 169.5h.8M361 171h.8M339 173h.8M360.5 165.5h.8M352.5 172.5h.8M363 168h.8M351 175.5h.8M351.5 172h.8M371 165h.8M359.5 176.5h.8M366 172.5h.8M346 180.5h.8M357 173.5h.8M345.5 174.5h.8M359 175h.8M349 178.5h.8M348.5 168.5h.8M354.5 173.5h.8M353 170.5h.8M356.5 172h.8M368.5 167.5h.8M370.5 166.5h.8M335.5 174h.8M357.5 170.5h.8M366 172.5h.8M340.5 177h.8M356.5 171.5h.8M345.5 177.5h.8M348.5 172h.8M335.5 174h.8M345.5 175.5h.8M342 172.5h.8M342.5 175.5h.8M338.5 181h.8M367.5 165h.8M354 172h.8M352 176.5h.8M345.5 177h.8M369.5 172h.8M352 175.5h.8M366 173.5h.8M343.5 172h.8M340 175.5h.8M358.5 169.5h.8M345 177h.8M370 165.5h.8M349.5 174h.8M354 172h.8M353.5 178.5h.8M347 174h.8M357 171.5h.8M361.5 168.5h.8M345.5 173.5h.8M368.5 166h.8M352.5 174.5h.8M365 171.5h.8M357.5 173h.8M355.5 171.5h.8M345.5 173.5h.8M353.5 168h.8M366 174h.8M355.5 172h.8M364 171h.8M363 169h.8M358.5 166.5h.8M339 177h.8M359.5 172h.8M344 178h.8M352.5 173h.8M355.5 173.5h.8M341 177.5h.8M342 175.5h.8M363.5 168.5h.8M340.5 175h.8M359 168h.8M371 173h.8M371 165.5h.8M348 173.5h.8M350.5 174h.8M348.5 179h.8M346 181h.8M360 172h.8M350 181h.8M353.5 172h.8M339.5 174.5h.8M362.5 169.5h.8M361 175h.8M360.5 168.5h.8M348 169h.8M363 171.5h.8M364 172h.8M338.5 175h.8M361.5 176.5h.8M361.5 172h.8M348 170h.8M368 170.5h.8M358 167.5h.8M365 166h.8M370.5 174.5h.8M361.5 172h.8M359 178.5h.8M344.5 175h.8M369.5 175.5h.8M357 168.5h.8M367 166h.8M340.5 180h.8M339.5 173h.8M351.5 167.5h.8M360.5 172.5h.8M373.5 166.5h.8M340.5 174.5h.8M340.5 173.5h.8M362.5 169h.8M371.5 169h.8M371 165.5h.8M368.5 167.5h.8M338.5 179h.8M351.5 176h.8M341.5 175.5h.8M365 177.5h.8M338.5 172.5h.8M341.5 172h.8M360 174.5h.8M364.5 169h.8M349 173h.8M351.5 172.5h.8M341.5 179h.8M353 176h.8M343 177.5h.8M364.5 173h.8M339.5 179h.8M359 171.5h.8M371 168.5h.8M341 173.5h.8M369 170h.8M369.5 171.5h.8M359.5 173.5h.8M348.5 168h.8M363 174h.8M370 172h.8M359 171.5h.8M358.5 172.5h.8M369 172h.8M347.5 169h.8M354.5 177h.8M357.5 169.5h.8M371 174h.8M366 177h.8M350.5 172h.8M373 165h.8M347.5 175h.8M361.5 174.5h.8M343.5 174.5h.8M343 175.5h.8M355 170h.8M361.5 169.5h.8M340 176h.8M343 173.5h.8M356 175.5h.8M368.5 162.5h.8M366.5 175.5h.8M363.5 173.5h.8M355.5 171h.8M366 166.5h.8M350 175.5h.8M359 173h.8M368 170h.8M372 174.5h.8M351.5 173.5h.8M351.5 172.5h.8M338 182h.8M363.5 174h.8M350.5 170.5h.8M348 173.5h.8M351.5 169.5h.8M338.5 179h.8M343.5 177h.8M353 178.5h.8M340 174.5h.8M354 171.5h.8M360 169.5h.8M342 181h.8M357.5 168.5h.8M346.5 170h.8M370 171.5h.8M362.5 169h.8M367.5 172.5h.8M347.5 171.5h.8M344.5 179.5h.8M363.5 169h.8M339.5 173h.8M359.5 171.5h.8M340 180.5h.8M355 168.5h.8M356 172h.8M350.5 173h.8M369.5 172.5h.8M345.5 176.5h.8M349.5 177.5h.8M364.5 174.5h.8M342 177.5h.8M345.5 174.5h.8M337.5 174h.8M345.5 177h.8M367.5 166h.8M338 180.5h.8M350.5 176h.8M336 172.5h.8M338 179h.8M344.5 174h.8M355 174h.8M364 159.5h.8M347 174.5h.8M365.5 173.5h.8M341.5 174.5h.8M366.5 176h.8M356 175.5h.8M367 164.5h.8M355.5 171h.8M363 167h.8M347 170h.8M352 172.5h.8M361.5 167h.8M354.5 170.5h.8M358.5 173h.8M341.5 171.5h.8M354 173.5h.8M337 177.5h.8M357 175.5h.8M367.5 170.5h.8M338.5 172.5h.8M353.5 173h.8M338 175h.8M345.5 175h.8M342.5 171.5h.8M373 170h.8M341 177.5h.8M338.5 173.5h.8M363.5 165.5h.8M334 173.5h.8M357 170h.8M363.5 170h.8M353 173h.8M361 167h.8M335.5 179.5h.8M338.5 175.5h.8M355.5 172.5h.8M363.5 174h.8M355 171h.8M369.5 163h.8M342.5 172h.8M360 168h.8M368 171h.8M365.5 175.5h.8M349.5 172.5h.8M340 174h.8M354.5 177h.8M362 169.5h.8M338 175h.8M356.5 170h.8M362 166h.8M355 173.5h.8M359 167.5h.8M350.5 175h.8M355 178.5h.8M367.5 164h.8M354.5 175.5h.8M352 176.5h.8M347.5 173.5h.8M347.5 172h.8M362.5 174h.8M354.5 178h.8M370.5 168.5h.8M335.5 178h.8M362 168.5h.8M361 174h.8M337.5 179h.8M350 177h.8M367 168.5h.8M354 178.5h.8M348 176h.8M342.5 177.5h.8M344.5 173.5h.8M347 171.5h.8M362.5 169h.8M355.5 169h.8M341.5 177h.8M337.5 172h.8M353.5 171.5h.8M341.5 174h.8M361.5 170.5h.8M365.5 172h.8M352 169.5h.8M365.5 170h.8M354 169h.8M353.5 176h.8M368.5 168h.8M336 173.5h.8M345.5 172h.8M362 175h.8M368 171h.8M356 175h.8M356 170h.8M341 179.5h.8M350.5 168h.8M349 172.5h.8M357 170h.8M365 176.5h.8M358.5 169.5h.8M343.5 170.5h.8M348 168.5h.8M363.5 178.5h.8M364.5 173.5h.8M371 171h.8M344.5 174.5h.8M345.5 173.5h.8M356 175h.8M345 174.5h.8M339 173.5h.8M349 172.5h.8M358 174h.8M368 164.5h.8M369 170.5h.8M339.5 172h.8M349 171.5h.8M357.5 172.5h.8M366.5 175h.8M361.5 172.5h.8M347 177.5h.8M348 172.5h.8M349.5 178h.8M355.5 177.5h.8M343 176.5h.8M356.5 171h.8M367 164h.8M351 173.5h.8M347 172h.8M369.5 163h.8M339 178.5h.8M348 174.5h.8M354 172h.8M345 173h.8M365.5 168h.8M340 174h.8M339.5 171.5h.8M347.5 179h.8M367.5 173h.8M342.5 176h.8M345 172h.8M341 177.5h.8M339.5 174.5h.8M360.5 168.5h.8M368 174h.8M365 167h.8M355 173h.8M352 167.5h.8M362.5 170h.8M352.5 173h.8M355.5 170h.8M337.5 174h.8M365.5 169.5h.8M355 170h.8M371.5 169.5h.8M355.5 168.5h.8M369.5 170.5h.8M355 175h.8M352 171h.8M359.5 170.5h.8M369 172h.8M342 170.5h.8M352.5 175.5h.8M345.5 173h.8M341.5 176.5h.8M368.5 170.5h.8M352.5 170.5h.8M375 172h.8M333.5 171.5h.8M363.5 169h.8M371 167.5h.8M365 169h.8M350.5 169h.8M367 171.5h.8M343.5 181h.8M348.5 170h.8M357 172h.8M342.5 168h.8M371 176.5h.8M350.5 178.5h.8M364 168h.8M342 177h.8M342 174h.8M346 172h.8M340 175.5h.8M338 175.5h.8M351 170.5h.8M346.5 167h.8M370 166h.8M347.5 173h.8M365.5 172h.8M346 171.5h.8M351 173h.8M370 171.5h.8M358.5 169h.8M363 168h.8M356 176h.8M360 167h.8M349.5 170.5h.8M348 176h.8M343.5 177.5h.8M346 178.5h.8M353 171.5h.8M356.5 168.5h.8M354.5 174h.8M346.5 175.5h.8M336.5 178h.8M340.5 171.5h.8M355.5 174.5h.8M363 173.5h.8M346 171h.8M351.5 175h.8M343 182h.8M337.5 177.5h.8M360 163h.8M350 174.5h.8M338 180h.8M369.5 171h.8M365.5 168.5h.8M341.5 176h.8M361 172.5h.8M367 170h.8M348 170.5h.8M359 172.5h.8M354.5 174h.8M352.5 170.5h.8M351 173.5h.8M360 171.5h.8M358 171h.8M356.5 174h.8M350 175h.8M343.5 175h.8M338 171.5h.8M344 175.5h.8M352 170h.8M357 171.5h.8M334 176h.8M360 172h.8M339 171.5h.8M352.5 174h.8M361.5 168h.8M367.5 170h.8M346.5 171h.8M340.5 178.5h.8M359 172.5h.8M355.5 173h.8M359.5 169.5h.8M368.5 166h.8M339 179.5h.8M352 174h.8M365.5 168h.8M354 171h.8M361 178h.8M366.5 169h.8M354.5 175h.8M376.5 166h.8M365.5 170.5h.8M364.5 173.5h.8M365 173h.8M362.5 173h.8M348.5 178h.8" stroke="#111" stroke-width="0.8" fill="none"/>
<text x="0" y="0" font-size="9.9" text-anchor="end" class="b" fill="#111" transform="translate(387 194.6) scale(0.94 1)">33%</text>
</g>
<g>
<rect x="404.6" y="140.4" width="61" height="58.1" fill="none" stroke="#222" stroke-width="0.9"/>
<line x1="404.6" y1="144.9" x2="465.6" y2="144.9" class="th"/>
<line x1="434.7" y1="140.4" x2="434.7" y2="198.5" class="th"/>
<path d="M402.3 198.5h2.3M403.2 195.59h1.4M403.2 192.69h1.4M403.2 189.78h1.4M403.2 186.88h1.4M402.3 183.97h2.3M403.2 181.07h1.4M403.2 178.16h1.4M403.2 175.26h1.4M403.2 172.35h1.4M402.3 169.45h2.3M403.2 166.55h1.4M403.2 163.64h1.4M403.2 160.74h1.4M403.2 157.83h1.4M402.3 154.93h2.3M403.2 152.02h1.4M403.2 149.12h1.4M403.2 146.21h1.4M403.2 143.31h1.4M404.6 198.5v2.4M409.19 198.5v1.3M411.88 198.5v1.3M413.78 198.5v1.3M415.26 198.5v1.3M416.47 198.5v1.3M417.49 198.5v1.3M418.37 198.5v1.3M419.15 198.5v1.3M419.85 198.5v2.4M424.44 198.5v1.3M427.13 198.5v1.3M429.03 198.5v1.3M430.51 198.5v1.3M431.72 198.5v1.3M432.74 198.5v1.3M433.62 198.5v1.3M434.4 198.5v1.3M435.1 198.5v2.4M439.69 198.5v1.3M442.38 198.5v1.3M444.28 198.5v1.3M445.76 198.5v1.3M446.97 198.5v1.3M447.99 198.5v1.3M448.87 198.5v1.3M449.65 198.5v1.3M450.35 198.5v2.4M454.94 198.5v1.3M457.63 198.5v1.3M459.53 198.5v1.3M461.01 198.5v1.3M462.22 198.5v1.3M463.24 198.5v1.3M464.12 198.5v1.3M464.9 198.5v1.3M465.6 198.5v2.4" stroke="#222" stroke-width="0.75" fill="none"/>
<text x="400.7" y="148.2" font-size="5.5" text-anchor="start" fill="#111" transform="rotate(-90 400.7 148.2)" stroke="#111" stroke-width="0.2">1000</text>
<text x="400.3" y="199.7" font-size="5.5" text-anchor="start" fill="#111" transform="rotate(-90 400.3 199.7)" stroke="#111" stroke-width="0.2">0</text>
<text transform="translate(401.7 210) scale(0.72 1)" font-size="6.4" fill="#111" stroke="#111" stroke-width="0.2">10<tspan dy="-3.6" dx="0.4" font-size="4.6">0</tspan></text>
<text transform="translate(417.07 210) scale(0.72 1)" font-size="6.4" fill="#111" stroke="#111" stroke-width="0.2">10<tspan dy="-3.6" dx="0.4" font-size="4.6">1</tspan></text>
<text transform="translate(432.44 210) scale(0.72 1)" font-size="6.4" fill="#111" stroke="#111" stroke-width="0.2">10<tspan dy="-3.6" dx="0.4" font-size="4.6">2</tspan></text>
<text transform="translate(447.81 210) scale(0.72 1)" font-size="6.4" fill="#111" stroke="#111" stroke-width="0.2">10<tspan dy="-3.6" dx="0.4" font-size="4.6">3</tspan></text>
<text transform="translate(463.18 210) scale(0.72 1)" font-size="6.4" fill="#111" stroke="#111" stroke-width="0.2">10<tspan dy="-3.6" dx="0.4" font-size="4.6">4</tspan></text>
<path d="M452 163.5h.8M442 164h.8M437 169h.8M428 171.5h.8M427.5 174h.8M447.5 164.5h.8M421 168.5h.8M445.5 170.5h.8M439.5 167.5h.8M441.5 164h.8M435.5 167h.8M421.5 163h.8M433 162h.8M443 159.5h.8M422.5 167h.8M443.5 165.5h.8M441 170h.8M428.5 169.5h.8M443.5 165h.8M444.5 172h.8M438.5 163h.8M449.5 163.5h.8M436 166.5h.8M429.5 162.5h.8M448.5 163.5h.8M430.5 163.5h.8M449 163.5h.8M431.5 169h.8M432 168.5h.8M436 166h.8M442.5 162.5h.8M438.5 172h.8M440 166.5h.8M433 165h.8M429 166.5h.8M427 165.5h.8M445.5 170.5h.8M427.5 164h.8M430.5 169h.8M425 165.5h.8M420.5 170.5h.8M449 169h.8M449.5 163.5h.8M432 169.5h.8M433.5 166.5h.8M436 171h.8M428 163h.8M431.5 168.5h.8M422.5 164h.8M428 167h.8M427.5 167h.8M427.5 171.5h.8M432 169h.8M421 168.5h.8M421 167.5h.8M432.5 167.5h.8M434 167.5h.8M416 166.5h.8M429.5 169.5h.8M427.5 162h.8M425.5 166.5h.8M422.5 164.5h.8M454.5 163h.8M430.5 171.5h.8M422 166.5h.8M442.5 167.5h.8M444.5 166.5h.8M450.5 164.5h.8M440 169.5h.8M429.5 170.5h.8M429.5 173.5h.8M427.5 166h.8M444 173.5h.8M449.5 164.5h.8M445 166.5h.8M430 164h.8M450 161h.8M448 172.5h.8M419.5 167h.8M434 168h.8M439.5 165h.8M427 164h.8M418 175.5h.8M427.5 171h.8M448 164h.8M441 167.5h.8M430 166.5h.8M421 166.5h.8M421.5 169h.8M425 166h.8M426 167.5h.8M440 170h.8M420.5 167.5h.8M438 170.5h.8M425 164h.8M448.5 166h.8M435.5 169.5h.8M436 167.5h.8M442 171h.8M427 164.5h.8M428.5 168h.8M423 167.5h.8M431.5 167h.8M450.5 174.5h.8M430 165.5h.8M418 168h.8M443.5 162.5h.8M421 170h.8M420.5 167h.8M437 169h.8M446.5 163.5h.8M434 165h.8M420 170h.8M434.5 172h.8M426 175h.8M440 168.5h.8M445 171h.8M426.5 167h.8M448.5 166.5h.8M427.5 165h.8M429 164h.8M426 165h.8M425.5 164h.8M424 170h.8M431 171.5h.8M451 168h.8M441.5 166h.8M418.5 167h.8M427.5 170.5h.8M453 166h.8M447.5 165.5h.8M447.5 175.5h.8M425.5 166h.8M436.5 170.5h.8M437.5 164.5h.8M437 166.5h.8M438.5 163.5h.8M426 169.5h.8M424.5 172.5h.8M439.5 167.5h.8M442 168.5h.8M434.5 172h.8M447.5 166h.8M418 173h.8M418.5 170h.8M424 172.5h.8M422.5 165.5h.8M427 170h.8M429 168h.8M429.5 167.5h.8M436.5 164h.8M422.5 167h.8M426.5 168h.8M424.5 169.5h.8M450 170.5h.8M442 168.5h.8M431 163.5h.8M421 166.5h.8M435.5 170.5h.8M439.5 164.5h.8M416 170.5h.8M433.5 164h.8M444.5 164.5h.8M443 165.5h.8M426.5 164h.8M446.5 164h.8M424 167h.8M434.5 170.5h.8M437.5 164h.8M423.5 165h.8M445.5 164h.8M447 162.5h.8M424 169h.8M445 168.5h.8M435 163h.8M423.5 170h.8M443 173.5h.8M433 170.5h.8M424 167.5h.8M432 168.5h.8M430.5 167.5h.8M435.5 162.5h.8M446 163h.8M434.5 163.5h.8M452.5 172.5h.8M439.5 169.5h.8M426 170.5h.8M450.5 172.5h.8M441.5 166h.8M443.5 163h.8M443 163.5h.8M438 171h.8M451 166.5h.8M429.5 173.5h.8M425 166h.8M431 167.5h.8M437.5 172.5h.8M420.5 166h.8M448.5 171h.8M422.5 166.5h.8M448 165.5h.8M442 168.5h.8M446.5 164.5h.8M421 167.5h.8M428 168.5h.8M442.5 176h.8M429 163h.8M438.5 166.5h.8M448 165h.8M426.5 169h.8M449.5 169h.8M439.5 168.5h.8M444 168h.8M449 162h.8M428.5 166.5h.8M423.5 167.5h.8M427 165.5h.8M441 167.5h.8M446 167h.8M420 167.5h.8M440.5 169h.8M449.5 166.5h.8M431 165h.8M447.5 170.5h.8M427 165.5h.8M431.5 162h.8M424.5 170h.8M441.5 163h.8M445.5 170.5h.8M417.5 172h.8M427.5 166h.8M432.5 165.5h.8M439.5 168h.8M420 163.5h.8M442.5 163.5h.8M445.5 163.5h.8M437 169.5h.8M423.5 170h.8M424.5 166h.8M430.5 164h.8M424 167h.8M421.5 170.5h.8M423 169h.8M447 166h.8M421 166h.8M429 164h.8M430 169h.8M442.5 166.5h.8M424.5 167.5h.8M433 167.5h.8M419.5 171h.8M419.5 167h.8M434.5 173.5h.8M446 167h.8M430.5 169.5h.8M436.5 166.5h.8M447 168h.8M425 169.5h.8M446.5 165h.8M432 167.5h.8M445.5 168.5h.8M447.5 159h.8M431 170.5h.8M433.5 171h.8M429 173h.8M429 166h.8M423 163h.8M440.5 166h.8M436.5 162.5h.8M437 166h.8M421 167.5h.8M424.5 171h.8M444.5 161.5h.8M428 169.5h.8M434.5 172.5h.8M436.5 167.5h.8M448.5 172h.8M425.5 169.5h.8M435.5 171.5h.8M442 169h.8M433.5 169.5h.8M431.5 169h.8M440 163.5h.8M438 167h.8M446 166h.8M423.5 174h.8M432.5 166h.8M438 169.5h.8M426.5 170.5h.8M433 166h.8M443 169h.8M432 174h.8M438.5 163.5h.8M445 165.5h.8M449 169h.8M449.5 161h.8M428.5 171.5h.8M426.5 169.5h.8M427 169.5h.8M435.5 168h.8M437.5 168.5h.8M444.5 161h.8M446 167h.8M417 165.5h.8M432.5 171.5h.8M435 168h.8M433.5 165.5h.8M451.5 169.5h.8M427.5 169.5h.8M444 167.5h.8M434.5 168h.8M419 170.5h.8M422.5 173h.8M439 167h.8M448.5 164h.8M423 172.5h.8M440 169h.8M441 166h.8M449.5 166.5h.8M423.5 161h.8M425.5 169.5h.8M426 171h.8M425.5 166h.8M426.5 169h.8M421 168.5h.8M443 168h.8M446 165h.8M430 169h.8M421.5 169.5h.8M425 169.5h.8M439.5 171h.8M437.5 167.5h.8M442.5 168h.8M419.5 165.5h.8M429.5 169h.8M443.5 168h.8M446 169h.8M448 171h.8M446.5 167.5h.8M452.5 161h.8M442 168h.8M422 166.5h.8M449 166h.8M450 168.5h.8M433 167.5h.8M426 168.5h.8M446.5 165h.8M421.5 167.5h.8M439.5 166h.8M437.5 165.5h.8M445 164h.8M440 164h.8M437 161.5h.8M448.5 170h.8M437.5 165.5h.8M434 173h.8M443 167h.8M420 165.5h.8M432.5 169.5h.8M437 168.5h.8M431 173.5h.8M430.5 164h.8M426 172.5h.8M447.5 166h.8M428.5 169h.8M430 161h.8M439.5 169.5h.8M423.5 172h.8M436 169.5h.8M445.5 164h.8M428.5 173h.8M416 162h.8M440 167.5h.8M445 170h.8M439 165h.8M443 165.5h.8M429.5 162h.8M444.5 164.5h.8M450 171.5h.8M427.5 170h.8M449 169.5h.8M452.5 166h.8M430.5 166.5h.8M421 169.5h.8M428 165h.8M444 167h.8M432 168.5h.8M454.5 165h.8M418.5 170.5h.8M425.5 169h.8M421 163.5h.8M454 168h.8M445 168h.8M450.5 165.5h.8M424 166.5h.8M433.5 168.5h.8M430.5 166h.8M418.5 169.5h.8M438 170h.8M448 163h.8M439.5 172h.8M453.5 169.5h.8M431 172h.8M447 168.5h.8M436 171h.8M453 167h.8M427 171.5h.8M446.5 167.5h.8M444.5 160.5h.8M432 174h.8M439 166h.8M445 168h.8M421.5 170.5h.8M442 166h.8M436 169h.8M429 168h.8M443 162.5h.8M432 168.5h.8M429.5 167.5h.8M429.5 167h.8M426.5 169.5h.8M449 165h.8M435 175h.8M423 168h.8M433.5 167.5h.8M421.5 168h.8M430.5 168.5h.8M432.5 170h.8M422.5 167h.8M416.5 168.5h.8M446 161.5h.8M441 173h.8M438 168h.8M422 166.5h.8M436.5 165.5h.8M435.5 167.5h.8M450 170h.8M425 166.5h.8M446 170.5h.8M424 165.5h.8M435.5 166h.8M451 167h.8M444.5 166h.8M429 166.5h.8M435.5 164h.8M448.5 165h.8M446.5 171h.8M423 166h.8M449.5 164h.8M452.5 170h.8M442 167.5h.8M423.5 168h.8M438 167h.8M446 165h.8M428.5 170h.8M421 171.5h.8M431.5 166h.8M422.5 167.5h.8M429.5 169.5h.8M428 171.5h.8M425 172.5h.8M431.5 169.5h.8M447.5 169h.8M435 173h.8M446.5 164h.8M447 166h.8M444 175h.8M441.5 170h.8M431 169h.8M417.5 170h.8M437.5 169.5h.8M432 167.5h.8M422 169h.8M432 170.5h.8M437 170h.8M438 166h.8M432.5 168.5h.8M432 170h.8M437 171.5h.8M440 167.5h.8M433.5 165h.8M424.5 172h.8M430 167.5h.8M439 167.5h.8M445 158.5h.8M448 163.5h.8M426.5 165h.8M431.5 170.5h.8M442 165.5h.8M425 167h.8M450 165h.8M424 166h.8M428 164.5h.8M448.5 162h.8M438.5 164.5h.8M440.5 168.5h.8M438.5 175.5h.8M427.5 166h.8M423.5 167h.8M450 166h.8M431 170h.8M435 172h.8M434.5 163.5h.8M427.5 167h.8M432 169h.8M439.5 159.5h.8M422.5 168h.8M442 164h.8M447.5 163h.8M428.5 169h.8M435 167h.8M437.5 168.5h.8M442 170h.8M424.5 166.5h.8M453.5 162.5h.8M427.5 167h.8M450 166h.8M425 170h.8M449.5 164h.8M447.5 167h.8M436 170.5h.8M443 167h.8M440.5 169.5h.8M444.5 165.5h.8M433.5 168h.8M426.5 169h.8M420.5 158h.8M442 165.5h.8M443 171h.8M426 171.5h.8M426 173h.8M447.5 166.5h.8M427.5 168.5h.8M440.5 165h.8M447.5 167.5h.8M419 171.5h.8M418.5 169h.8M431 163h.8M420.5 166.5h.8M420 172h.8M432 167h.8M437.5 166h.8M441 164.5h.8M435 167h.8M433 164.5h.8M436.5 163.5h.8M437 169.5h.8M438 168.5h.8M430.5 172h.8M448.5 171h.8M433.5 164h.8M434 168h.8M432 162.5h.8M438.5 165h.8M448 171.5h.8M431.5 169h.8M437.5 167.5h.8M419.5 167h.8M429 168h.8M427.5 169.5h.8M431.5 174h.8M442 168.5h.8M451 166h.8M440.5 164.5h.8M433 168h.8M438 173.5h.8M427.5 166h.8M443.5 160h.8M436.5 169.5h.8M428 169.5h.8M429.5 167.5h.8M434 167.5h.8M442.5 172h.8M425.5 166h.8M423 170h.8M421.5 176h.8M428.5 171h.8M425.5 171.5h.8M430 169.5h.8M445 166.5h.8M440.5 167.5h.8M428.5 170h.8M446.5 168.5h.8M448 168.5h.8M438 165.5h.8M428.5 161h.8M420 166.5h.8M420.5 167.5h.8M447 165h.8M420 168h.8M420 167h.8M431.5 169h.8M435 174h.8M447.5 163h.8M438.5 170.5h.8M434.5 169h.8M450 166.5h.8M446 168h.8M422.5 168h.8M445.5 164h.8M431 169h.8M432.5 162.5h.8M436.5 162.5h.8M430.5 170.5h.8M438.5 163.5h.8M424 164h.8M431.5 170.5h.8M449 172.5h.8M451.5 170.5h.8M434 169h.8M431.5 165.5h.8M447 167h.8M418.5 170h.8M454 168.5h.8M422 168h.8M440 165.5h.8M432.5 168.5h.8M435 169.5h.8M448 166h.8M438 171.5h.8M443 169h.8M423 167.5h.8M451 169h.8M421.5 167.5h.8M450 165.5h.8M440.5 168h.8M434 167.5h.8M437 165.5h.8M434.5 173.5h.8M421.5 166h.8M423 173.5h.8M425 167h.8M452 168h.8M432 163.5h.8M429 167.5h.8M445.5 177.5h.8M440.5 167.5h.8M441 163.5h.8M447 162h.8M426 163.5h.8M423 168.5h.8M426 162.5h.8M438 172.5h.8M424.5 171.5h.8M426.5 162h.8M441.5 171h.8M426.5 167h.8M426 163.5h.8M445.5 168h.8M444 163h.8M447.5 168h.8M433.5 170.5h.8M442.5 171.5h.8M440.5 167.5h.8M444 162h.8M440 167h.8M434 172.5h.8M426.5 164h.8M418 166.5h.8M425 164.5h.8M425.5 167h.8M424.5 163.5h.8M453 166.5h.8M434.5 167h.8M451.5 166h.8M423 167.5h.8M447.5 165h.8M420.5 168h.8M437.5 163h.8M437 173.5h.8M446 167h.8M439 169h.8M431 169.5h.8M437.5 167h.8M441.5 167h.8M424.5 166.5h.8M439 164.5h.8M442 166h.8M420 164h.8M451 161.5h.8M438 170h.8M446.5 170.5h.8M437.5 167.5h.8M426 162.5h.8M425.5 176h.8M425 164h.8M446.5 165.5h.8M443.5 166h.8M448.5 170h.8M433 166h.8M422.5 165h.8M420.5 168h.8M432 162.5h.8M423 176h.8M440.5 171h.8M430 170h.8M425 171.5h.8M453.5 168.5h.8M424 168.5h.8M418.5 161.5h.8M420 169h.8M431.5 169.5h.8M447.5 169.5h.8M423 167h.8M427 167.5h.8M428.5 158h.8M439 170.5h.8M439 165.5h.8M448 168.5h.8M439.5 164.5h.8M424.5 171h.8M437.5 171h.8M434.5 169h.8M420.5 167.5h.8M440.5 165.5h.8M437.5 172h.8M445.5 169h.8M428 164h.8M438 172.5h.8M424 168.5h.8M435 166h.8M437.5 169.5h.8M435.5 169.5h.8M445 168h.8M420 168.5h.8M426.5 171h.8M425.5 167h.8M430.5 169h.8M439.5 165.5h.8M437 165h.8M444.5 167.5h.8M426.5 167h.8M422.5 165h.8M432.5 165h.8M440 168h.8M448.5 165.5h.8M441.5 166.5h.8M434 162h.8M425 165.5h.8M431 165h.8M444 167.5h.8M422.5 168.5h.8M448.5 164.5h.8M436 167h.8M432.5 173h.8M441 166.5h.8M445 165.5h.8M441.5 164.5h.8M431.5 166h.8M423 159h.8M421 165h.8M421.5 170.5h.8M442.5 169.5h.8M438.5 157h.8M447 170.5h.8M435.5 166h.8M431.5 172.5h.8M445.5 163h.8M450 171h.8M445.5 167h.8M436 165.5h.8M434 167h.8M432.5 164h.8M436 164.5h.8M430.5 166h.8M420 168.5h.8M431.5 161h.8M426.5 170.5h.8M436 172h.8M422.5 167.5h.8M441.5 169.5h.8M447.5 167h.8M423 164h.8M428 167h.8M434 163.5h.8M422.5 168.5h.8M450.5 165h.8M419.5 167h.8M450.5 164h.8M444.5 161h.8M431 167h.8M435.5 170.5h.8M441 168.5h.8M437.5 167h.8M426.5 173h.8M445.5 163h.8M440.5 169h.8M437.5 164h.8M440.5 169.5h.8M422 170.5h.8M423 168h.8M439.5 173.5h.8M431.5 168.5h.8M432 163.5h.8M431 163.5h.8M431 172h.8M438.5 168h.8M435 169.5h.8M431 172.5h.8M445.5 168.5h.8M445.5 161.5h.8M427 170.5h.8M427.5 170h.8M436 162.5h.8M420.5 164h.8M432 168h.8M423.5 170.5h.8M449 164.5h.8M447.5 164h.8M421 170h.8M424 170h.8M419.5 174h.8M422.5 168h.8M419 164.5h.8M423 164.5h.8M425 167h.8M439.5 168h.8M441 165.5h.8M418.5 167h.8M432 164.5h.8M421.5 163.5h.8M439.5 166h.8M441.5 168h.8M426.5 169.5h.8M422.5 167h.8M426.5 167.5h.8M430.5 163h.8M433 172h.8M449 168.5h.8M436 165.5h.8M442 163.5h.8M448 162.5h.8M428.5 171h.8M443.5 165.5h.8M441.5 166h.8M439.5 164.5h.8M447.5 167.5h.8M430.5 167.5h.8M428 170.5h.8M425.5 172h.8M434.5 167h.8M434.5 163h.8M428 167.5h.8M420.5 169.5h.8M447.5 169h.8M435.5 163h.8M428.5 168h.8M443 169h.8M424.5 168h.8M430.5 169h.8M435.5 169h.8M449 168h.8M430 168.5h.8M432.5 165.5h.8M433.5 165h.8M434.5 173h.8M449.5 173h.8M430.5 168h.8M427 170h.8M447 166h.8M444 171h.8M427.5 166h.8M438.5 163.5h.8M434 164h.8M437 169h.8M429 167h.8M421 172h.8M440 167h.8M423 160h.8M445 166h.8M437.5 162.5h.8M442.5 164.5h.8M439.5 162.5h.8M426 164h.8M443 165.5h.8M423 172h.8M419.5 167h.8M425 172h.8M443.5 166.5h.8M423.5 165h.8M448 165h.8M431 171h.8M431 162.5h.8M430.5 167.5h.8M435 162h.8M440.5 170.5h.8M442.5 170h.8M424.5 172.5h.8M428 164.5h.8M441.5 168.5h.8M440.5 169.5h.8M429 168h.8M439 168.5h.8M439.5 169h.8M441 165.5h.8M429.5 166.5h.8M426 168.5h.8M444.5 172.5h.8M442 163h.8M429.5 168.5h.8M415.5 168h.8M421 169.5h.8M425 172h.8M425.5 170h.8M450 166h.8M437 168h.8M427 167.5h.8M449.5 169.5h.8M450 168h.8M433.5 170h.8M440 166.5h.8M417.5 173h.8M434.5 168.5h.8M425 170h.8M440.5 166.5h.8M425.5 162.5h.8M446 171h.8M420.5 166.5h.8M447 164h.8M446.5 164.5h.8M438 165.5h.8M442.5 170h.8M424.5 170.5h.8M434.5 175h.8M426 167h.8M428.5 167.5h.8M446.5 173.5h.8M449.5 166h.8M425 168.5h.8M444 168h.8M430 167h.8M444 166.5h.8M431.5 165h.8M447.5 167h.8M436 170.5h.8M435 166.5h.8M452 161h.8M430.5 166.5h.8M435.5 163.5h.8M422.5 168.5h.8M437.5 166h.8M443.5 168.5h.8M444.5 166.5h.8M438 165h.8M421.5 164h.8M443.5 165h.8M443.5 161.5h.8M437 166.5h.8M421 166.5h.8M435.5 170.5h.8M422.5 166.5h.8M440 166h.8M430 171.5h.8M426 167.5h.8M422 166h.8M448 168h.8M443.5 165.5h.8M439.5 176h.8M429 168h.8M435 165.5h.8M430.5 169.5h.8M422 167h.8M421 166.5h.8M435 172h.8M430 166h.8M441 171.5h.8M431 173h.8M429 164.5h.8M421 167h.8M430.5 167.5h.8M435 163h.8M431 170.5h.8M425 164h.8M426.5 160h.8M436.5 167h.8M417.5 169h.8M442.5 166h.8M424 168.5h.8M420.5 167.5h.8M421.5 171h.8M430 168h.8M445 172.5h.8M450.5 164.5h.8M436 166h.8M438.5 169.5h.8M432.5 170.5h.8M446 167h.8M418.5 168h.8M449 170h.8M427.5 167.5h.8M429.5 173h.8M432 165.5h.8M422 168.5h.8M421 167.5h.8M427 171.5h.8M430 168.5h.8M424.5 168h.8M444 165.5h.8M428 174.5h.8M432 166.5h.8M421 172.5h.8M436 163.5h.8M446 167h.8M449 168.5h.8M421.5 166h.8M424 169.5h.8M437 169.5h.8M438 162.5h.8M434.5 173h.8M421 170h.8M437 166.5h.8M432.5 165.5h.8M421 166h.8M434.5 171.5h.8M439.5 164h.8M422 169h.8M422 168h.8M435 169h.8M453 167h.8M450.5 169.5h.8M452.5 165h.8M441 164.5h.8M417 172h.8M448 168h.8M431 167.5h.8M448.5 166.5h.8M419 170h.8M445.5 164h.8M449.5 169h.8M430 168.5h.8M448.5 164h.8M426 171h.8M440.5 159.5h.8M422.5 171h.8M446 168h.8M443.5 168h.8M439 160h.8M430 166.5h.8M445 164h.8M448 168h.8M435 165.5h.8M446 168.5h.8M433 164h.8M445.5 164h.8M432.5 171.5h.8M429.5 170h.8M428 163.5h.8M423 171.5h.8M451 174h.8M423 168h.8M453 167.5h.8M449.5 163h.8M425 175.5h.8M447 169.5h.8M438 169.5h.8M449.5 169.5h.8M427.5 169h.8M443 166.5h.8M445 167h.8M425.5 162h.8M437 166.5h.8M428.5 163h.8M424 166.5h.8M441 169h.8M442.5 164.5h.8M442 171h.8M424 171h.8M421 171h.8M425 168h.8M446 168.5h.8M424.5 164.5h.8M444.5 165.5h.8M426.5 169.5h.8M445.5 168.5h.8M422.5 172h.8M441.5 166h.8M428 168.5h.8M421 168h.8M431.5 169.5h.8M435.5 168.5h.8M445 166.5h.8M425.5 171h.8M432.5 169.5h.8M424 162.5h.8M448 170h.8M426 168h.8M430.5 164h.8M424 168.5h.8M420.5 170.5h.8M437 167h.8M426 165.5h.8M434.5 171.5h.8M424 168.5h.8M435 166.5h.8M433 164.5h.8M438 169.5h.8M442.5 164.5h.8M434 171.5h.8M416.5 168.5h.8M451 168h.8M429.5 162.5h.8M424.5 170.5h.8M446.5 167.5h.8M440.5 168h.8M421.5 164.5h.8M434.5 162.5h.8M429 173h.8M421.5 165h.8M436.5 175h.8M428.5 169h.8M448 166h.8M423.5 169h.8M436.5 163.5h.8M437 167h.8M429 172h.8M436 170h.8M452 163.5h.8M444 167.5h.8M442.5 171h.8M434.5 171h.8M424 167h.8M436 169h.8M422.5 167.5h.8M443.5 174.5h.8M431.5 171.5h.8M427.5 164.5h.8M426 167h.8M429 169h.8M427.5 170.5h.8M431 165.5h.8M439 165h.8M447.5 169h.8M423 164.5h.8M433.5 164.5h.8M450.5 165h.8M423.5 172h.8M433.5 168h.8M433.5 166h.8M448.5 162.5h.8M440.5 167.5h.8M450 162h.8M418.5 164.5h.8M422.5 171h.8M428 169h.8M437.5 168h.8M432 170h.8M426 165h.8M432 163.5h.8M444 162h.8M419 169.5h.8M448.5 173h.8M432 171.5h.8M423.5 170.5h.8M436 167h.8M447.5 166h.8M430.5 168h.8M442.5 165.5h.8M443.5 161h.8M431.5 161.5h.8M435.5 165h.8M425.5 165h.8M448.5 165.5h.8M424 166.5h.8M421 167.5h.8M441 169h.8M438.5 173.5h.8M435 166h.8M428.5 163h.8M441 166.5h.8M448 167.5h.8M427.5 168h.8M434 169.5h.8M433 171.5h.8M421.5 174.5h.8M433.5 166.5h.8M433.5 167h.8M447.5 170h.8M433 172.5h.8M451.5 167h.8M441 167h.8M443.5 170h.8M427.5 164h.8M432 164h.8M440.5 172.5h.8M441.5 167h.8M432 165.5h.8M444 165.5h.8M442 169.5h.8M430.5 163.5h.8M429.5 162.5h.8M427 165h.8M440 165.5h.8M434 167h.8M429 167h.8M435.5 166h.8M442 168.5h.8M435.5 170h.8M423.5 168.5h.8M451.5 170h.8M437.5 166h.8M445.5 168h.8M431 165.5h.8M441 172.5h.8M449 165.5h.8M430.5 167h.8M424 167.5h.8M418 173.5h.8M434.5 166.5h.8M442 165h.8M439 168.5h.8M452 166.5h.8M419.5 167.5h.8M442 168h.8M446.5 173.5h.8M429 166.5h.8M442 170h.8M426 169.5h.8M427 172.5h.8M427.5 175h.8M443.5 170h.8M438.5 162.5h.8M436.5 168h.8M419 169h.8M446.5 167.5h.8M419 174h.8M447 168h.8M425.5 170.5h.8M426.5 170h.8M427.5 165.5h.8M442.5 168h.8M437 169.5h.8M435 166h.8M444.5 168h.8M443.5 163h.8M421 168h.8M438.5 168.5h.8M449 165.5h.8M441.5 169.5h.8M423 169h.8M437.5 168.5h.8M443.5 171h.8M444 162.5h.8M449 169h.8M452.5 165h.8M450 168h.8M450.5 170.5h.8M426 166.5h.8M432.5 166h.8M450 168h.8M444.5 166.5h.8M443 168h.8M444 161.5h.8M435.5 167.5h.8M439.5 168h.8M423.5 167.5h.8M443 178.5h.8M430 167h.8M430 167.5h.8M420 171h.8M442.5 170h.8M443 158h.8M418.5 162.5h.8M423.5 169h.8M444.5 168h.8M424 165h.8M430 169h.8M438 168.5h.8M429 169.5h.8M439 169h.8M434 167h.8M428.5 162h.8M430.5 163.5h.8M439.5 164.5h.8M442 166h.8M426 168h.8M438 161.5h.8M428.5 171.5h.8M420.5 169h.8M427 168.5h.8M441 161.5h.8M436.5 162h.8M441.5 171h.8M445.5 170h.8M418.5 167.5h.8M433.5 169h.8M445 174h.8M440.5 165.5h.8M440 165.5h.8M436 169.5h.8M427 161h.8M433.5 169.5h.8M426 172.5h.8M433 168h.8M423 170.5h.8M420.5 172h.8M438.5 168.5h.8M437.5 167.5h.8M449 159.5h.8M429.5 162h.8M441 167.5h.8M428.5 169.5h.8M425 168.5h.8M433 169h.8M420.5 166.5h.8M434.5 167h.8M437 165h.8M438.5 163.5h.8M427 167.5h.8M432.5 162.5h.8M442 168h.8M424 172h.8M420.5 170h.8M437.5 173h.8M419 172.5h.8M442 172h.8M445 166h.8M425 167h.8M440 169h.8M438 168h.8M424 165h.8M444 167h.8M428.5 166.5h.8M425 168h.8M434 171h.8M429.5 168.5h.8M441.5 166h.8M423 168.5h.8M423.5 169h.8M433 168h.8M421 164h.8M430 167h.8M433 167h.8M422 168.5h.8M423 163.5h.8M435.5 169.5h.8M433 166.5h.8M443.5 167h.8M438 164h.8M426 166.5h.8M426.5 166h.8M428.5 167h.8M425.5 171.5h.8M418.5 169h.8M422.5 173h.8M438 171.5h.8M437.5 167.5h.8M443 159.5h.8M417.5 168h.8M434 164.5h.8M436.5 161h.8M436.5 167h.8M432.5 172.5h.8M442.5 170h.8M448 164.5h.8M428.5 167h.8M452.5 161.5h.8M455.5 171h.8M430.5 172h.8M433.5 175.5h.8M427 169.5h.8M446 163.5h.8M434.5 172h.8M444 171.5h.8M446.5 168.5h.8M441 165h.8M418 172.5h.8M421.5 169h.8M432.5 171h.8M437 163h.8M428.5 167.5h.8M445.5 169h.8M432 163h.8M427 159.5h.8M430.5 163h.8M438.5 167.5h.8M445 172h.8M448.5 163h.8M444 160.5h.8M449.5 165h.8M449.5 168h.8M441.5 165h.8M431 168.5h.8M448 164h.8M445 168.5h.8M429 171h.8M431 168h.8M425.5 165.5h.8M434.5 164.5h.8M443 164h.8M426 167h.8M423.5 164.5h.8M447.5 160h.8M430.5 168.5h.8M425 170h.8M435.5 165.5h.8M445.5 166h.8M436 167h.8M429.5 170.5h.8M432.5 169h.8M443.5 166.5h.8M449.5 170.5h.8M435.5 168.5h.8M427.5 168h.8M443 167.5h.8M430.5 167h.8M435 170h.8M436 167h.8M420 168h.8M435 172.5h.8M430.5 168.5h.8M427.5 164h.8M448.5 165.5h.8M419.5 166h.8M439.5 170h.8M424 161.5h.8M427.5 168h.8M442.5 169h.8M439 170.5h.8M433.5 164.5h.8M431 171h.8M448 166h.8M425 173.5h.8M443.5 172h.8M447.5 164h.8M445 174h.8M422 170h.8M445.5 163h.8M435.5 171.5h.8M419 160.5h.8M431 168.5h.8M432.5 166.5h.8M433 163h.8M431.5 171h.8M423 167.5h.8M448 163.5h.8M448 162.5h.8M428.5 168.5h.8M420.5 164h.8M448 169h.8M447.5 158.5h.8M421.5 167.5h.8M445.5 170.5h.8M442 162.5h.8M422.5 167.5h.8M442.5 165.5h.8M427 163h.8M429 166.5h.8M447 170h.8M427 168.5h.8M421.5 168h.8M425 166h.8M435.5 170.5h.8M446 168.5h.8M445 170.5h.8M421 166.5h.8M432 171h.8M448 163.5h.8M418 167.5h.8M448.5 167h.8M449 166.5h.8M441.5 167h.8M434 167.5h.8M441 164.5h.8M424 170.5h.8M436.5 174h.8M420 172.5h.8M435.5 169h.8M428.5 165.5h.8M438.5 164.5h.8M419.5 168h.8M428 167h.8M450 167.5h.8M422 162.5h.8M426.5 170.5h.8M438.5 170.5h.8M440 169h.8M440 167h.8M434.5 164h.8M442 167h.8M434.5 173h.8M440 164h.8M429.5 165.5h.8M432.5 164h.8M426.5 164h.8M441.5 169.5h.8M419 164.5h.8M428.5 169.5h.8M441 166.5h.8M440.5 168h.8M441.5 172h.8M440.5 166.5h.8M433.5 170h.8M428.5 165h.8M439 170h.8M441 169h.8M426.5 167.5h.8M447 171.5h.8M420 161.5h.8M431 171h.8M429.5 174.5h.8M437 167.5h.8M444 164.5h.8M428.5 168.5h.8M435 170.5h.8M429 169.5h.8M428 174.5h.8M431.5 167h.8M448.5 165.5h.8M448 167h.8M443.5 170.5h.8M448.5 161.5h.8M439 171.5h.8M438 168h.8M437.5 166h.8M443 171h.8M446.5 171.5h.8M438.5 170h.8M420.5 170h.8M445 164.5h.8M437 167h.8M429.5 166h.8M428.5 169h.8M440 165h.8M437 168.5h.8M424.5 169h.8M423 172h.8M423 166.5h.8M424.5 164h.8M447.5 171.5h.8M438.5 167h.8M428.5 168.5h.8M422.5 167h.8M437.5 171h.8M431.5 171h.8M430 166.5h.8M423 166.5h.8M443 160h.8M435 162h.8M441 163h.8M441.5 169h.8M447.5 165.5h.8M449 162h.8M429.5 170.5h.8M439.5 168h.8M424 166h.8M424 168h.8M433.5 173.5h.8M434.5 167.5h.8M422 162h.8M415.5 166.5h.8M450.5 165h.8M452 174.5h.8M447.5 162h.8M426.5 168.5h.8M437.5 167h.8M433 169.5h.8M432.5 171h.8M435 170h.8M429.5 168h.8M448 164.5h.8M443 169h.8M431.5 171.5h.8M447 165h.8M423.5 164h.8M427.5 167.5h.8M453.5 166h.8M450 166h.8M427 167h.8M423.5 173.5h.8M445 168h.8M448 165.5h.8M429 163h.8M448 170h.8M419.5 169h.8M438 170.5h.8M432.5 165h.8M451.5 167.5h.8M431 167.5h.8M420.5 170.5h.8M434 163.5h.8M424 171.5h.8M438.5 169h.8M418.5 169h.8M426.5 173h.8M422.5 169h.8M428 170.5h.8M442 169h.8M437 165.5h.8M440 173h.8M451.5 171.5h.8M436 170h.8M445 167.5h.8M438.5 168h.8M422.5 168h.8M437.5 172h.8M438.5 161.5h.8M452 168h.8M436.5 166h.8M423.5 167.5h.8M422 165h.8" stroke="#111" stroke-width="0.8" fill="none"/>
<text x="0" y="0" font-size="9.9" text-anchor="end" class="b" fill="#111" transform="translate(463.2 194.9) scale(0.94 1)">42%</text>
</g>
<g>
<rect x="328.2" y="219.6" width="60.3" height="58.5" fill="none" stroke="#222" stroke-width="0.9"/>
<line x1="328.2" y1="224.7" x2="388.5" y2="224.7" class="th"/>
<line x1="355.2" y1="219.6" x2="355.2" y2="278.1" class="th"/>
<path d="M325.9 278.1h2.3M326.8 275.18h1.4M326.8 272.25h1.4M326.8 269.33h1.4M326.8 266.4h1.4M325.9 263.48h2.3M326.8 260.55h1.4M326.8 257.62h1.4M326.8 254.7h1.4M326.8 251.78h1.4M325.9 248.85h2.3M326.8 245.93h1.4M326.8 243h1.4M326.8 240.07h1.4M326.8 237.15h1.4M325.9 234.22h2.3M326.8 231.3h1.4M326.8 228.38h1.4M326.8 225.45h1.4M326.8 222.53h1.4M328.2 278.1v2.4M332.74 278.1v1.3M335.39 278.1v1.3M337.28 278.1v1.3M338.74 278.1v1.3M339.93 278.1v1.3M340.94 278.1v1.3M341.81 278.1v1.3M342.59 278.1v1.3M343.27 278.1v2.4M347.81 278.1v1.3M350.47 278.1v1.3M352.35 278.1v1.3M353.81 278.1v1.3M355.01 278.1v1.3M356.01 278.1v1.3M356.89 278.1v1.3M357.66 278.1v1.3M358.35 278.1v2.4M362.89 278.1v1.3M365.54 278.1v1.3M367.43 278.1v1.3M368.89 278.1v1.3M370.08 278.1v1.3M371.09 278.1v1.3M371.96 278.1v1.3M372.74 278.1v1.3M373.43 278.1v2.4M377.96 278.1v1.3M380.62 278.1v1.3M382.5 278.1v1.3M383.96 278.1v1.3M385.16 278.1v1.3M386.16 278.1v1.3M387.04 278.1v1.3M387.81 278.1v1.3M388.5 278.1v2.4" stroke="#222" stroke-width="0.75" fill="none"/>
<text x="324.3" y="227.4" font-size="5.5" text-anchor="start" fill="#111" transform="rotate(-90 324.3 227.4)" stroke="#111" stroke-width="0.2">1000</text>
<text x="323.9" y="279.3" font-size="5.5" text-anchor="start" fill="#111" transform="rotate(-90 323.9 279.3)" stroke="#111" stroke-width="0.2">0</text>
<text transform="translate(325.3 289.6) scale(0.72 1)" font-size="6.4" fill="#111" stroke="#111" stroke-width="0.2">10<tspan dy="-3.6" dx="0.4" font-size="4.6">0</tspan></text>
<text transform="translate(340.5 289.6) scale(0.72 1)" font-size="6.4" fill="#111" stroke="#111" stroke-width="0.2">10<tspan dy="-3.6" dx="0.4" font-size="4.6">1</tspan></text>
<text transform="translate(355.69 289.6) scale(0.72 1)" font-size="6.4" fill="#111" stroke="#111" stroke-width="0.2">10<tspan dy="-3.6" dx="0.4" font-size="4.6">2</tspan></text>
<text transform="translate(370.89 289.6) scale(0.72 1)" font-size="6.4" fill="#111" stroke="#111" stroke-width="0.2">10<tspan dy="-3.6" dx="0.4" font-size="4.6">3</tspan></text>
<text transform="translate(386.08 289.6) scale(0.72 1)" font-size="6.4" fill="#111" stroke="#111" stroke-width="0.2">10<tspan dy="-3.6" dx="0.4" font-size="4.6">4</tspan></text>
<path d="M364.5 249h.8M362.5 252h.8M366 247h.8M362 250h.8M359 252.5h.8M362 248.5h.8M368 249.5h.8M358 251h.8M362.5 251.5h.8M374.5 251h.8M370 249h.8M366 252h.8M363 251.5h.8M361.5 253h.8M360 256.5h.8M345 248.5h.8M363 252h.8M363.5 245.5h.8M365 247.5h.8M364 249h.8M361.5 246h.8M357 249.5h.8M358.5 252h.8M357 252h.8M365.5 248h.8M358.5 250h.8M368 254.5h.8M373.5 249.5h.8M366.5 251h.8M363 247h.8M362.5 254.5h.8M369.5 247.5h.8M356.5 258h.8M364 252h.8M362 245h.8M364.5 247.5h.8M362 249h.8M363.5 258.5h.8M369.5 243.5h.8M356 250h.8M360.5 253.5h.8M370.5 247h.8M366 249.5h.8M354.5 255.5h.8M371.5 247h.8M366 248.5h.8M363 249h.8M363 251h.8M360.5 252h.8M357.5 254h.8M358 245h.8M367 249h.8M361.5 254h.8M364 257h.8M365 245.5h.8M360.5 249h.8M363 256h.8M377 254.5h.8M366 252h.8M363 243.5h.8M371 256h.8M361 251h.8M360 250.5h.8M359 247.5h.8M368.5 243.5h.8M368 246h.8M361.5 244h.8M366 247h.8M375 246h.8M365 252.5h.8M358.5 248.5h.8M358.5 253h.8M365.5 253.5h.8M356 248.5h.8M362.5 249h.8M365.5 254h.8M363.5 248h.8M363 248.5h.8M361 257h.8M367.5 256h.8M362.5 250.5h.8M357.5 252h.8M367 252.5h.8M358 251.5h.8M367.5 248.5h.8M366.5 248.5h.8M363 248.5h.8M356 249h.8M364 249.5h.8M363 248.5h.8M367.5 249.5h.8M365 249h.8M369.5 249.5h.8M366.5 257.5h.8M365 245h.8M360.5 252h.8M356.5 246.5h.8M362 245.5h.8M369 251.5h.8M362.5 254.5h.8M359.5 247h.8M367.5 250h.8M363 254h.8M363 253h.8M365 254h.8M366 248.5h.8M370.5 248.5h.8M371 245.5h.8M362.5 243.5h.8M366.5 254.5h.8M362 252.5h.8M363 255.5h.8M365 251.5h.8M368 245h.8M367 250.5h.8M369.5 250h.8M366.5 250h.8M358.5 249.5h.8M362 246.5h.8M363 249h.8M372 248.5h.8M364 251h.8M366 245h.8M356 257h.8M359 248.5h.8M369 251h.8M360 253.5h.8M359 256.5h.8M362 252h.8M364.5 257h.8M359 251h.8M372.5 242.5h.8M361.5 252h.8M362.5 252h.8M368.5 246h.8M361 255.5h.8M371.5 240.5h.8M366.5 253.5h.8M360 248h.8M358 250.5h.8M358.5 253.5h.8M360.5 252.5h.8M356.5 254.5h.8M367 253h.8M366 258h.8M368 250h.8M371 248.5h.8M365 256h.8M361.5 251h.8M365 251h.8M363 254h.8M373.5 248h.8M356.5 250h.8M356.5 247.5h.8M359 254.5h.8M364.5 253h.8M363.5 254h.8M362 255h.8M368 250.5h.8M356 248h.8M364.5 247h.8M362.5 250h.8M369.5 247.5h.8M364 249h.8M360 252.5h.8M367.5 245.5h.8M371.5 257h.8M364.5 252h.8M358.5 250h.8M365 250h.8M369.5 247h.8M362.5 252.5h.8M363 250h.8M363 252h.8M355.5 260.5h.8M366.5 246.5h.8M358.5 247.5h.8M364.5 244.5h.8M375 247h.8M358 258h.8M363.5 252h.8M362.5 250h.8M372.5 243h.8M364.5 248h.8M362 250.5h.8M355 254h.8M364.5 252.5h.8M361 253.5h.8M361.5 253.5h.8M370 251.5h.8M356.5 252h.8M359.5 257.5h.8M364 246.5h.8M357 256h.8M359 252.5h.8M362 250.5h.8M361.5 251h.8M371 246.5h.8M366 252h.8M360 247.5h.8M359.5 253h.8M364.5 254h.8M365.5 250.5h.8M363.5 251.5h.8M364 252.5h.8M360 254.5h.8M371 249h.8M365.5 246.5h.8M363.5 246h.8M368 250h.8M369 253.5h.8M360.5 253.5h.8M372 256.5h.8M363.5 252.5h.8M361 253h.8M367 255h.8M363 251h.8M366 249.5h.8M372.5 242h.8M355 250h.8M367 250h.8M365 245.5h.8M366.5 252h.8M371.5 252h.8M360.5 248.5h.8M358 250h.8M363.5 254.5h.8M371.5 249.5h.8M366.5 249.5h.8M357.5 253h.8M359.5 246h.8M360 256h.8M358.5 256h.8M357 251.5h.8M366 249h.8M359 251.5h.8M372 251.5h.8M364.5 252.5h.8M370 254h.8M362 248h.8M359 251.5h.8M362 251h.8M361.5 259h.8M361 255.5h.8M359 248.5h.8M357.5 248h.8M355.5 249h.8M362.5 253h.8M355.5 253h.8M363 250.5h.8M353.5 253.5h.8M367 254h.8M362.5 255h.8M363.5 247.5h.8M366.5 253.5h.8M364.5 250.5h.8M362.5 253h.8M355 253h.8M357 250h.8M365 254.5h.8M363 247.5h.8M376.5 250h.8M350.5 252h.8M360 249h.8M369.5 256.5h.8M363.5 246.5h.8M367.5 250.5h.8M361.5 251.5h.8M358 252h.8M366 254h.8M373 247.5h.8M365 248h.8M364.5 254h.8M366.5 249h.8M372.5 252.5h.8M369.5 250h.8M370 249.5h.8M367.5 250h.8M363 245.5h.8M368.5 252h.8M360.5 251h.8M366.5 252.5h.8M354.5 257h.8M359.5 257.5h.8M369 250.5h.8M364.5 251.5h.8M362.5 255.5h.8M360 249.5h.8M361.5 245.5h.8M368 246h.8M371 252.5h.8M373 247.5h.8M362 249.5h.8M367 247h.8M361 243.5h.8M364 251.5h.8M372.5 246.5h.8M368.5 252h.8M367.5 246.5h.8M346.5 251.5h.8M368.5 250.5h.8M371.5 256.5h.8M360 250h.8M370 244h.8M351.5 253h.8M366 255.5h.8M367 250h.8M360 245h.8M366 248.5h.8M362 252h.8M353.5 251.5h.8M361.5 257.5h.8M363.5 254.5h.8M358 246h.8M367.5 249h.8M357.5 255h.8M365 244.5h.8M363.5 257h.8M363.5 246h.8M360 255.5h.8M371 252h.8M356.5 254.5h.8M359.5 249.5h.8M361.5 254.5h.8M366.5 252h.8M361 249.5h.8M368.5 248h.8M362.5 252.5h.8M363 254h.8M366.5 252.5h.8M374.5 247.5h.8M373 245h.8M358.5 243h.8M360 248.5h.8M367.5 254.5h.8M374.5 247.5h.8M368.5 249.5h.8M352.5 238.5h.8M361 244.5h.8M367.5 247h.8M366.5 248h.8M365.5 247h.8M366.5 256.5h.8M364.5 246h.8M360 251.5h.8M367 246h.8M358.5 246h.8M372.5 250.5h.8M365 249h.8M373 251h.8M363.5 254.5h.8M366.5 249.5h.8M362 251h.8M369.5 245h.8M355.5 254h.8M369.5 254.5h.8M365.5 245.5h.8M367.5 250.5h.8M358 246h.8M356 252h.8M357.5 252.5h.8M363 253h.8M367.5 247h.8M362 253.5h.8M361 254.5h.8M367 253h.8M361 253.5h.8M362.5 251.5h.8M366.5 248.5h.8M362 243h.8M360.5 253h.8M357 244.5h.8M356.5 250.5h.8M367 252h.8M357 253h.8M358 255h.8M365 248h.8M361 250.5h.8M361.5 255h.8M365 248.5h.8M365 245.5h.8M364 249.5h.8M360.5 251h.8M364 245.5h.8M366.5 260h.8M367 248h.8M366 256h.8M359 257h.8M362.5 257h.8M360 254.5h.8M361.5 255h.8M368 251h.8M360 254.5h.8M365 246.5h.8M366 249.5h.8M362.5 247.5h.8M365 253.5h.8M360 254h.8M355 252h.8M364.5 247h.8M363.5 246h.8M373 250.5h.8M368.5 247h.8M352.5 252h.8M370 249h.8M369.5 251h.8M365.5 254h.8M360.5 249.5h.8M369 251.5h.8M360.5 247.5h.8M369 239h.8M368 249.5h.8M357.5 253h.8M367 258h.8M364 242h.8M359.5 254h.8M361 250.5h.8M364 255.5h.8M365 250h.8M361 254.5h.8M360.5 252.5h.8M366 253h.8M367.5 251h.8M373.5 252h.8M359.5 248h.8M361 255.5h.8M359 256.5h.8M365.5 248.5h.8M359 251h.8M367 250h.8M367 250.5h.8M369.5 248h.8M362.5 247h.8M361.5 247.5h.8M356.5 251h.8M365.5 242.5h.8M357 247h.8M365.5 252h.8M365 250h.8M360 251.5h.8M359.5 250.5h.8M365.5 249.5h.8M368 242.5h.8M356.5 255h.8M360.5 249.5h.8M361 250.5h.8M363 252h.8M368.5 256h.8M353.5 251.5h.8M359.5 252h.8M359 251.5h.8M365 250.5h.8M365 252.5h.8M358.5 251h.8M369 253h.8M367.5 247h.8M361 254.5h.8M363.5 251.5h.8M362.5 254h.8M364 247h.8M365 249h.8M362.5 252.5h.8M364 248.5h.8M358 250h.8M362.5 246.5h.8M361.5 258.5h.8M360.5 251h.8M357.5 250.5h.8M365 251h.8M355.5 252h.8M359.5 255h.8M364 256h.8M364.5 246.5h.8M367.5 248.5h.8M363 251h.8M358 255.5h.8M363.5 247h.8M357.5 253h.8M369.5 251h.8M365 249h.8M369 251.5h.8M359.5 249h.8M354 256h.8M377.5 248h.8M366 253h.8M363.5 258h.8M358.5 248.5h.8M371.5 252.5h.8M367 250h.8M363.5 251h.8M365 248.5h.8M369 255.5h.8M360.5 248h.8M365 258.5h.8M359.5 255.5h.8M360 248.5h.8M368.5 249.5h.8M363.5 253h.8M369 250.5h.8M370.5 247.5h.8M361.5 253h.8M365.5 244.5h.8M362.5 253h.8M363.5 256.5h.8M356.5 252.5h.8M359 246h.8M362.5 250.5h.8M361.5 249h.8M367 246.5h.8M360 246.5h.8M368.5 245h.8M371 246.5h.8M364 256h.8M359 255.5h.8M357 250h.8M366.5 251.5h.8M365 251.5h.8M370 244.5h.8M360.5 254h.8M356.5 249.5h.8M375.5 253.5h.8M366 250.5h.8M362.5 248h.8M359 248h.8M357.5 252h.8M365 247.5h.8M363.5 246h.8M365 249.5h.8M363.5 251.5h.8M369.5 250.5h.8M360.5 251.5h.8M365.5 252h.8M368 247.5h.8M358 253.5h.8M358.5 253h.8M377 253h.8M356.5 249h.8M365 249.5h.8M367 251h.8M365.5 252.5h.8M356.5 255.5h.8M356.5 248.5h.8M352 252h.8M365 249h.8M357 244h.8M365.5 246.5h.8M362 251.5h.8M363.5 252h.8M371.5 252h.8M359 251h.8M362 248h.8M366.5 249h.8M365 252.5h.8M373 247.5h.8M368 257.5h.8M371 250.5h.8M360 251.5h.8M360.5 249.5h.8M355.5 251h.8M354.5 255.5h.8M366 249h.8M363.5 251h.8M362.5 252h.8M363 252.5h.8M359.5 251.5h.8M371 247h.8M360 254.5h.8M365 251h.8M364 249h.8M361.5 252.5h.8M364.5 252.5h.8M366.5 258h.8M364.5 255.5h.8M365.5 258h.8M368 247.5h.8M370.5 248h.8M368 247.5h.8M365.5 251h.8M369.5 242.5h.8M355 255h.8M367 248.5h.8M363 245h.8M361.5 249h.8M368 251h.8M363.5 254.5h.8M361 253.5h.8M362.5 252.5h.8M363 255.5h.8M362.5 257.5h.8M367 247.5h.8M362 255.5h.8M370 245.5h.8M364.5 252.5h.8M375 251.5h.8M363 254h.8M363.5 248h.8M363.5 250h.8M362.5 251h.8M365 248h.8M366 245h.8M367 252h.8M365 245.5h.8M361.5 252h.8M366 253h.8M356.5 252h.8M368 246h.8M357.5 250h.8M362 250h.8M369.5 251h.8M355 254.5h.8M364.5 253.5h.8M364 255.5h.8M364 249h.8M358.5 254.5h.8M362 245h.8M368 254.5h.8M354 254h.8M367.5 256h.8M369 247.5h.8M366 253h.8M357.5 256.5h.8M366.5 253h.8M360 254h.8M363 250h.8M364 252h.8M356.5 252h.8M364.5 245h.8M373 258h.8M367 250.5h.8M358 248h.8M358 254.5h.8M359.5 252h.8M362 254h.8M370 253h.8M367 254h.8M371.5 247h.8M364.5 248.5h.8M363.5 250h.8M364.5 253h.8M356 243h.8M365.5 254h.8M362.5 256h.8M374.5 249.5h.8M363 252.5h.8M366.5 245.5h.8M365 243.5h.8M358.5 252.5h.8M364.5 246.5h.8M364.5 255h.8M356 254h.8M369 245.5h.8M369.5 251.5h.8M362 251h.8M363.5 251h.8M362.5 248.5h.8M368.5 256h.8M363.5 255.5h.8M359.5 247h.8M366.5 251h.8M365.5 247.5h.8M362 254.5h.8M371.5 250.5h.8M364 242h.8M361 255.5h.8M372 247h.8M352 254h.8M357 250.5h.8M360.5 250h.8M359.5 253.5h.8M364.5 246.5h.8M357 259h.8M366.5 251h.8M356.5 259h.8M358.5 252h.8M365 248.5h.8M364 249.5h.8M353 247.5h.8M360.5 249.5h.8M366.5 256h.8M363.5 258.5h.8M361.5 251.5h.8M361.5 245.5h.8M363 250h.8M360 254h.8M365.5 249.5h.8M359.5 252.5h.8M359.5 248.5h.8M361.5 254.5h.8M362 250.5h.8M362 253h.8M363 253.5h.8M363 254h.8M361.5 248.5h.8M365.5 250h.8M362 256h.8M361 248.5h.8M362.5 256h.8M357.5 255.5h.8M365.5 249h.8M361.5 248.5h.8M353.5 249h.8M356 246.5h.8M361.5 253h.8M359 250.5h.8M359.5 251h.8M366 254.5h.8M366.5 252h.8M370.5 252.5h.8M366 252.5h.8M367 247h.8M359.5 252h.8M355 251h.8M362 252h.8M367.5 255h.8M352.5 253h.8M365.5 255.5h.8M360.5 252.5h.8M362 248h.8M365 254h.8M361.5 251.5h.8M368.5 249.5h.8M362 252h.8M365.5 252h.8M369.5 251.5h.8M357 246.5h.8M363.5 256.5h.8M363.5 249.5h.8M365 252.5h.8M368.5 246h.8M367 251h.8M367.5 254h.8M353.5 255.5h.8M365.5 248h.8M363 254.5h.8M356.5 255h.8M368 256h.8M359 249.5h.8M368 249.5h.8M364 242h.8M373.5 243h.8M356 253.5h.8M365.5 248h.8M353 254h.8M364 247.5h.8M363.5 249h.8M359 254h.8M363.5 251h.8M357 249.5h.8M361.5 249h.8M365 251h.8M362 250.5h.8M365.5 254h.8M358.5 255h.8M368 253h.8M361 252h.8M372.5 245h.8M367 249.5h.8M371 250.5h.8M367 248.5h.8M361.5 256.5h.8M357 250h.8M361.5 247h.8M365.5 246.5h.8M363.5 250h.8M353 253h.8M356 252h.8M352 250.5h.8M367.5 251.5h.8M369.5 255.5h.8M366.5 250h.8M363 253h.8M357 248.5h.8M364 257h.8M358 252.5h.8M360.5 254h.8M365 250.5h.8M367.5 249.5h.8M356.5 259h.8M363 252h.8M366.5 247.5h.8M360.5 248.5h.8M366 252h.8M363.5 246.5h.8M358.5 246.5h.8M356.5 249.5h.8M365 252.5h.8M355 254h.8M365.5 256h.8M366.5 245.5h.8M365.5 251.5h.8M364.5 248.5h.8M370 250.5h.8M359.5 245.5h.8M361.5 246.5h.8M357 257.5h.8M363.5 254h.8M369 252.5h.8M360.5 247.5h.8M362.5 251.5h.8M362.5 250h.8M363 246h.8M367.5 246.5h.8M363.5 248h.8M369.5 248h.8M358.5 250.5h.8M367 246h.8M357 250h.8M365.5 240.5h.8M368.5 258h.8M363 254h.8M362 245h.8M361.5 253.5h.8M358 250.5h.8M360.5 252.5h.8M375 249.5h.8M358 257.5h.8M361.5 249.5h.8M366 253h.8M364.5 252h.8M363.5 246.5h.8M367.5 253.5h.8M358.5 245.5h.8M360.5 252h.8M370 250.5h.8M347.5 251h.8M363.5 251.5h.8M356 250.5h.8M364.5 253h.8M368 256h.8M360 250h.8M361.5 253h.8M373 250h.8M363.5 247.5h.8M358 258h.8M363.5 256h.8M367 248.5h.8M364 247.5h.8M366 250h.8M367.5 254.5h.8M361 254h.8M365 249h.8M365 255h.8M364.5 254h.8M365.5 255h.8M362.5 250h.8M365 242.5h.8M361.5 256.5h.8M360.5 257.5h.8M371 248h.8M360 252.5h.8M368.5 256h.8M370.5 247.5h.8M367 248.5h.8M368.5 252h.8M370 249.5h.8M366.5 246h.8M359 253.5h.8M364 254h.8M374 247h.8M357 248h.8M361 255h.8M365 249.5h.8M366.5 250h.8M364.5 250.5h.8M357 254.5h.8M365 258.5h.8M363.5 249h.8M364 248.5h.8M363 249.5h.8M364.5 247.5h.8M362.5 249.5h.8M358.5 251.5h.8M367 253h.8M365 250.5h.8M368 249.5h.8M366 244.5h.8M357 249h.8M368.5 249h.8M365 247h.8M357.5 261.5h.8M372 255.5h.8M363 248.5h.8M364.5 250h.8M360 242.5h.8M363.5 243h.8M360 246h.8M372.5 245h.8M361.5 252.5h.8M362 252h.8M367.5 248h.8M366 250h.8M357 252.5h.8M358.5 255h.8M363.5 251.5h.8M368 247.5h.8M360 256.5h.8M367 252h.8M354 252h.8M358.5 249.5h.8M354.5 246.5h.8M361.5 252.5h.8M361 250.5h.8M364.5 255.5h.8M360.5 251.5h.8M377 249h.8M367 246h.8M358 250h.8M378 246.5h.8M370 248h.8M356.5 245h.8M364.5 254.5h.8M359.5 250h.8M357.5 249h.8M368 248h.8M358.5 253.5h.8M364.5 250.5h.8M373.5 250.5h.8M368.5 245.5h.8M363.5 255h.8M367.5 253.5h.8M356 251h.8M372.5 254.5h.8M347.5 246.5h.8M370.5 252.5h.8M368.5 240.5h.8M364.5 253.5h.8M369 246.5h.8M369 252.5h.8M361.5 256.5h.8M370 253h.8M361.5 252h.8M364 256.5h.8M375.5 246h.8M373.5 251h.8M359.5 249h.8M371.5 251h.8M360 250.5h.8M361.5 250.5h.8M372 247h.8M360.5 240.5h.8M366.5 253.5h.8M373.5 247h.8M362 249.5h.8M357 251.5h.8M359.5 250.5h.8M364.5 253h.8M365 259h.8M365.5 252.5h.8M366 250h.8M368.5 250.5h.8M356.5 250h.8M370 244h.8M372.5 250h.8M365.5 255h.8M364.5 249h.8M352 250h.8M358 254h.8M363.5 247.5h.8M370 253h.8M375 250h.8M357.5 252h.8M368 253h.8M357 253.5h.8M367 251.5h.8M355 250.5h.8M363 250h.8M368 249h.8M353 245h.8M365.5 247.5h.8M364 254.5h.8M361 251h.8M355.5 247.5h.8M367 254.5h.8M360 250.5h.8M365 249h.8M363.5 249.5h.8M366.5 248.5h.8M360.5 246.5h.8M359 246h.8M363.5 254h.8M356.5 248.5h.8M360 253h.8M362 250h.8M358.5 250.5h.8M361.5 248h.8M371 251.5h.8M363 252h.8M375.5 251h.8M361 251h.8M369.5 251.5h.8M362 251h.8M357.5 250.5h.8M361.5 250h.8M370.5 250h.8M369.5 250h.8M356.5 256h.8M360.5 250.5h.8M370 254.5h.8M365 255h.8M361.5 253h.8M359.5 254.5h.8M361 253.5h.8M358 256.5h.8M371.5 248.5h.8M363.5 247.5h.8M362 246h.8M367 250h.8M369.5 250h.8M362 248h.8M366.5 250h.8M356.5 246.5h.8M368.5 249.5h.8M363 249h.8M361 251h.8M364 246.5h.8M376.5 252h.8M354 252h.8M369 247.5h.8M357 253.5h.8M360.5 251h.8M372 249.5h.8M370 247h.8M354 250.5h.8M362 253h.8M365 243.5h.8M357.5 250h.8M359.5 249h.8M362 251.5h.8M355.5 248.5h.8M359.5 255.5h.8M362 246h.8M366.5 253.5h.8M354.5 247.5h.8M366 250.5h.8M367.5 255.5h.8M367.5 253.5h.8M361.5 255.5h.8M360 252.5h.8M353 250.5h.8M367 247h.8M360 243.5h.8M361 246.5h.8M363.5 249h.8M360 250h.8M361.5 251h.8M362.5 254.5h.8M367.5 241.5h.8M370 249h.8M365 247.5h.8M367 252h.8M348.5 250.5h.8M355.5 254h.8M346.5 248h.8M346 255h.8M359 249.5h.8M348.5 250.5h.8M354 250.5h.8M362 253.5h.8M351 252h.8M357.5 251.5h.8M350 254h.8M358.5 256.5h.8M350 250h.8M347 253.5h.8M355 245h.8M356 254h.8M353 249h.8M352.5 251.5h.8M347.5 255.5h.8M359.5 252.5h.8M356 255.5h.8M352.5 252h.8M360.5 250h.8M351 254.5h.8M349.5 251h.8M358.5 252.5h.8M348.5 252h.8M356 255h.8M354 256.5h.8M353 257.5h.8M357 249h.8M352 254h.8M352 250.5h.8M355 252.5h.8M343.5 250.5h.8M350.5 256h.8M352.5 253.5h.8M357.5 252h.8M352.5 253h.8M357 250.5h.8M354 251h.8M353.5 256h.8M348.5 255h.8M353 253.5h.8M355.5 253h.8M356 258h.8M348.5 250.5h.8M356.5 253.5h.8M363 250h.8M356 251h.8M349.5 252h.8M347.5 251h.8M350.5 253h.8M353 255.5h.8M347.5 253.5h.8M348 256h.8M347.5 253h.8M348.5 256.5h.8M345.5 251h.8M350 252.5h.8M348 257h.8M348.5 247.5h.8M351 249.5h.8M348.5 252h.8M347.5 252.5h.8M350.5 255h.8M365.5 249.5h.8M350.5 256.5h.8M362 254h.8M352 258.5h.8M353.5 256.5h.8M349 250h.8M359.5 249.5h.8M347 254.5h.8M347.5 255.5h.8M353 252.5h.8M350 257.5h.8M360.5 255.5h.8M346 258.5h.8M353.5 258h.8M355 251h.8M343.5 252.5h.8M358.5 251h.8M360.5 248.5h.8M356 252.5h.8M345 255h.8M350 252.5h.8M341 252h.8M349 253h.8M349 259.5h.8M350.5 254h.8M351 257h.8M356 255.5h.8M344.5 254.5h.8M352 255h.8M349 254h.8M347 253h.8M354 251.5h.8M348 253.5h.8M354.5 254h.8M346 253h.8M346 251h.8M365.5 255h.8M356 252h.8M357.5 257h.8M359.5 254.5h.8M348 260.5h.8M357 255h.8M354.5 254h.8M349.5 248.5h.8M363 259h.8M355 254.5h.8M352.5 255.5h.8M351.5 253h.8M355 248h.8M359.5 251h.8M355.5 254.5h.8M361.5 256.5h.8M345 251.5h.8M352.5 248.5h.8M355.5 252.5h.8M348.5 256h.8M347 252h.8M352.5 255.5h.8M351 252.5h.8M353 252h.8M343 257h.8M355.5 256h.8M353 254.5h.8M343 250.5h.8M342.5 258h.8M349 257.5h.8M354.5 251.5h.8M351.5 251h.8M350 254.5h.8M355.5 251.5h.8M344 257.5h.8M346.5 256h.8M343.5 252h.8M342 256.5h.8M356 261.5h.8M362.5 252h.8M341 254h.8M353.5 254h.8M352.5 250h.8M351 258.5h.8M349 252.5h.8M345.5 252.5h.8M358.5 253.5h.8M349 252.5h.8M356.5 251h.8M347.5 253h.8M339 258.5h.8M348 256h.8M352.5 256h.8M350 260.5h.8M355 252h.8M353 247h.8M345 248.5h.8M351.5 259.5h.8M353.5 249h.8M344 255.5h.8M355.5 252h.8M360 253h.8M363.5 254h.8M362 244h.8M356.5 255h.8M360.5 254h.8M354.5 254h.8M353.5 254.5h.8M360 247.5h.8M349 249.5h.8M349 254.5h.8M353 254h.8M356 254h.8M350 253h.8M346 253h.8M351.5 254.5h.8M344 257.5h.8M351 249h.8M351.5 255h.8M352.5 252h.8M347.5 254.5h.8M353 254h.8M350.5 257h.8M342.5 254.5h.8M342.5 249h.8M353.5 255.5h.8M350.5 254.5h.8M351.5 256.5h.8M349 255h.8M353 248.5h.8M358 250.5h.8M345.5 252h.8M356.5 251.5h.8M356 250h.8M352.5 248h.8M351 257h.8M349 254h.8M343 259h.8M351 254.5h.8M349.5 250.5h.8M350 252.5h.8M346.5 253.5h.8M346.5 252.5h.8M336.5 252.5h.8M353.5 253.5h.8M351 254.5h.8M361 253h.8M352.5 253h.8M354 254.5h.8M341 260.5h.8M357 254h.8M348.5 253.5h.8M348.5 257.5h.8M347.5 249.5h.8M350.5 251h.8M353 253.5h.8M347 249.5h.8M349.5 250h.8M351 254h.8M350 254h.8M350.5 258h.8M342 251.5h.8M357.5 249h.8M355 252h.8M351.5 249.5h.8M349.5 253h.8M340.5 255h.8M348.5 247.5h.8M352.5 252h.8M344 257.5h.8M350.5 250h.8M347 254.5h.8M349 255.5h.8M345 255h.8M354.5 254.5h.8M347 251h.8M345.5 254.5h.8M342 262.5h.8M350.5 256.5h.8M350.5 257h.8M350.5 256h.8M357 253.5h.8M345 255.5h.8M352.5 252.5h.8M350.5 255.5h.8M341 256.5h.8M360 250h.8M358 251h.8M350 252.5h.8M351 251h.8M348.5 253h.8M347 253.5h.8M356.5 250h.8M352.5 251h.8M345.5 254h.8M350.5 256h.8M355.5 253h.8M348.5 257.5h.8M344.5 252h.8M355.5 254h.8M355 252h.8M356 256h.8M341.5 256h.8M356.5 249.5h.8M347 255h.8M355 252.5h.8M343 255h.8M351 252.5h.8M356 246.5h.8M352 251.5h.8M354.5 252h.8M360.5 252.5h.8M348 249h.8M350 253.5h.8M360 253h.8M352 250.5h.8M352.5 250.5h.8M344.5 255.5h.8M349 250h.8M358 255.5h.8M353.5 248.5h.8M347 251h.8M354 262h.8M356.5 252h.8M346.5 250h.8M348 254h.8M350.5 254.5h.8M354 249.5h.8M356 252.5h.8M360 251.5h.8M349.5 253h.8M358.5 253.5h.8M358 255h.8M354.5 259.5h.8M351 252.5h.8M357 249h.8M353.5 255.5h.8M346.5 248.5h.8M344.5 257.5h.8M364.5 249h.8M344.5 250.5h.8M360 254h.8M355 250.5h.8M355 250.5h.8M354.5 250.5h.8M345 253h.8M354 254h.8M349 256h.8M342.5 249h.8M355 252.5h.8M351.5 252h.8M354.5 253.5h.8M358.5 249.5h.8M345 253.5h.8M350.5 252.5h.8M340.5 255.5h.8M361 253h.8M358.5 254h.8M353.5 254h.8M357.5 253.5h.8M355 252.5h.8M348 254.5h.8M350 255h.8M341 259.5h.8M359.5 256.5h.8M353.5 250h.8M349.5 250.5h.8M354 253h.8" stroke="#111" stroke-width="0.8" fill="none"/>
<text x="0" y="0" font-size="9.9" text-anchor="end" class="b" fill="#111" transform="translate(387 274.1) scale(0.94 1)">79%</text>
</g>
<g>
<rect x="404.6" y="219.6" width="61" height="58.5" fill="none" stroke="#222" stroke-width="0.9"/>
<line x1="404.6" y1="224.7" x2="465.6" y2="224.7" class="th"/>
<line x1="434.7" y1="219.6" x2="434.7" y2="278.1" class="th"/>
<path d="M402.3 278.1h2.3M403.2 275.18h1.4M403.2 272.25h1.4M403.2 269.33h1.4M403.2 266.4h1.4M402.3 263.48h2.3M403.2 260.55h1.4M403.2 257.62h1.4M403.2 254.7h1.4M403.2 251.78h1.4M402.3 248.85h2.3M403.2 245.93h1.4M403.2 243h1.4M403.2 240.07h1.4M403.2 237.15h1.4M402.3 234.22h2.3M403.2 231.3h1.4M403.2 228.38h1.4M403.2 225.45h1.4M403.2 222.53h1.4M404.6 278.1v2.4M409.19 278.1v1.3M411.88 278.1v1.3M413.78 278.1v1.3M415.26 278.1v1.3M416.47 278.1v1.3M417.49 278.1v1.3M418.37 278.1v1.3M419.15 278.1v1.3M419.85 278.1v2.4M424.44 278.1v1.3M427.13 278.1v1.3M429.03 278.1v1.3M430.51 278.1v1.3M431.72 278.1v1.3M432.74 278.1v1.3M433.62 278.1v1.3M434.4 278.1v1.3M435.1 278.1v2.4M439.69 278.1v1.3M442.38 278.1v1.3M444.28 278.1v1.3M445.76 278.1v1.3M446.97 278.1v1.3M447.99 278.1v1.3M448.87 278.1v1.3M449.65 278.1v1.3M450.35 278.1v2.4M454.94 278.1v1.3M457.63 278.1v1.3M459.53 278.1v1.3M461.01 278.1v1.3M462.22 278.1v1.3M463.24 278.1v1.3M464.12 278.1v1.3M464.9 278.1v1.3M465.6 278.1v2.4" stroke="#222" stroke-width="0.75" fill="none"/>
<text x="400.7" y="227.4" font-size="5.5" text-anchor="start" fill="#111" transform="rotate(-90 400.7 227.4)" stroke="#111" stroke-width="0.2">1000</text>
<text x="400.3" y="279.3" font-size="5.5" text-anchor="start" fill="#111" transform="rotate(-90 400.3 279.3)" stroke="#111" stroke-width="0.2">0</text>
<text transform="translate(401.7 289.6) scale(0.72 1)" font-size="6.4" fill="#111" stroke="#111" stroke-width="0.2">10<tspan dy="-3.6" dx="0.4" font-size="4.6">0</tspan></text>
<text transform="translate(417.07 289.6) scale(0.72 1)" font-size="6.4" fill="#111" stroke="#111" stroke-width="0.2">10<tspan dy="-3.6" dx="0.4" font-size="4.6">1</tspan></text>
<text transform="translate(432.44 289.6) scale(0.72 1)" font-size="6.4" fill="#111" stroke="#111" stroke-width="0.2">10<tspan dy="-3.6" dx="0.4" font-size="4.6">2</tspan></text>
<text transform="translate(447.81 289.6) scale(0.72 1)" font-size="6.4" fill="#111" stroke="#111" stroke-width="0.2">10<tspan dy="-3.6" dx="0.4" font-size="4.6">3</tspan></text>
<text transform="translate(463.18 289.6) scale(0.72 1)" font-size="6.4" fill="#111" stroke="#111" stroke-width="0.2">10<tspan dy="-3.6" dx="0.4" font-size="4.6">4</tspan></text>
<path d="M441 241h.8M433.5 240.5h.8M447 248h.8M441 246h.8M432.5 246.5h.8M438.5 244.5h.8M444.5 240.5h.8M441.5 249.5h.8M444 242h.8M428.5 252h.8M447 246h.8M439.5 248h.8M445.5 247h.8M439.5 247.5h.8M443 253h.8M440.5 244h.8M449.5 251h.8M447 243.5h.8M438 243h.8M440.5 251h.8M445 247h.8M442 248.5h.8M440 243.5h.8M438 252.5h.8M436.5 243.5h.8M443.5 245.5h.8M439.5 247.5h.8M440 242h.8M445 247.5h.8M449 249h.8M438 245.5h.8M437 240h.8M444 244.5h.8M445.5 247h.8M440.5 252h.8M437 252.5h.8M439.5 254h.8M446 245h.8M449 247.5h.8M442.5 245.5h.8M440.5 245.5h.8M439.5 249.5h.8M445 250.5h.8M446.5 246.5h.8M444.5 246h.8M443.5 248.5h.8M442.5 244.5h.8M436 252.5h.8M437.5 245h.8M442.5 245.5h.8M443 251h.8M434 247.5h.8M443.5 242.5h.8M444.5 251.5h.8M441.5 248.5h.8M440 250h.8M438.5 247h.8M438 245h.8M446 246.5h.8M444.5 241.5h.8M435.5 244.5h.8M450 250h.8M451 245h.8M444 248h.8M440 249h.8M441 248.5h.8M433 244h.8M437 252.5h.8M445 243.5h.8M443 245h.8M435.5 244.5h.8M454.5 246.5h.8M441 251h.8M442 243.5h.8M451 253h.8M444.5 244h.8M441 247.5h.8M436.5 255.5h.8M441 245h.8M440 246h.8M429.5 248h.8M446.5 247.5h.8M443 246.5h.8M433.5 249.5h.8M444 243.5h.8M436 245.5h.8M434.5 239.5h.8M439 245h.8M442 250.5h.8M436.5 242.5h.8M440.5 249h.8M448 249.5h.8M441.5 247h.8M433.5 249.5h.8M444.5 246.5h.8M440 248.5h.8M443 248.5h.8M442.5 242h.8M438 242h.8M445 255h.8M437.5 247h.8M442 244.5h.8M448.5 247h.8M451.5 253.5h.8M443 244.5h.8M447 245.5h.8M437.5 246.5h.8M446 244h.8M440 249.5h.8M440 250h.8M446.5 245h.8M435.5 243.5h.8M447 248.5h.8M441.5 245.5h.8M445.5 245h.8M453.5 247h.8M434 251h.8M442 247h.8M440.5 250.5h.8M439 252h.8M438 250h.8M434.5 250.5h.8M436.5 246.5h.8M444 244.5h.8M443.5 247h.8M447 249.5h.8M442 246.5h.8M437.5 251.5h.8M439.5 243h.8M437 241.5h.8M437 246h.8M442.5 249.5h.8M444.5 241h.8M439 249h.8M442.5 246.5h.8M437.5 249.5h.8M440.5 246h.8M440.5 246h.8M442.5 250h.8M441 245h.8M440.5 246.5h.8M443.5 249h.8M448.5 249h.8M433 245h.8M435.5 248h.8M451.5 247.5h.8M438.5 251.5h.8M443.5 244h.8M437 252h.8M444 240h.8M437.5 249h.8M435 247.5h.8M436.5 242h.8M438.5 245.5h.8M442 241.5h.8M442 245.5h.8M434 251h.8M439 248.5h.8M448 247.5h.8M445 247.5h.8M438.5 247.5h.8M434 249h.8M444.5 248h.8M437.5 243.5h.8M437.5 246h.8M435 253.5h.8M437.5 247.5h.8M439 247.5h.8M431 244.5h.8M440.5 247h.8M442.5 245h.8M444.5 247.5h.8M440.5 247h.8M445.5 246.5h.8M448 247h.8M442 247h.8M442.5 248.5h.8M438 249.5h.8M452.5 248h.8M441 244.5h.8M437 244.5h.8M442 244.5h.8M448 245h.8M436.5 244.5h.8M440.5 246.5h.8M445 244.5h.8M442.5 250h.8M439 241.5h.8M442 250h.8M442.5 247h.8M432.5 252.5h.8M439.5 243.5h.8M439.5 247.5h.8M441 244h.8M452 250h.8M445.5 248.5h.8M439 243.5h.8M435.5 250.5h.8M441.5 252h.8M431 251.5h.8M443 245h.8M444.5 244.5h.8M439.5 248.5h.8M441.5 247.5h.8M442 250h.8M436.5 241h.8M436 239.5h.8M449.5 244h.8M440.5 248h.8M437 245.5h.8M442 247h.8M444.5 246h.8M437.5 242.5h.8M433 248.5h.8M442 245.5h.8M446 238h.8M443.5 243h.8M439 246.5h.8M437.5 246.5h.8M442.5 254.5h.8M441 249h.8M444.5 243.5h.8M443 245.5h.8M445 245h.8M445.5 244h.8M439 249.5h.8M445.5 249.5h.8M450 249.5h.8M441 250h.8M437 249.5h.8M442.5 246.5h.8M438 250.5h.8M431.5 247h.8M434.5 246.5h.8M438.5 244.5h.8M438 248h.8M450 251.5h.8M440 245.5h.8M443.5 244h.8M434.5 250.5h.8M439.5 252h.8M442 242.5h.8M442.5 248.5h.8M441 242.5h.8M434.5 253h.8M428 245h.8M445 252h.8M444 246.5h.8M443 250.5h.8M438.5 251h.8M442 247.5h.8M443 247.5h.8M437 252h.8M438.5 246h.8M429.5 242.5h.8M443.5 246.5h.8M440.5 246h.8M443.5 244.5h.8M433.5 242.5h.8M437 248h.8M447.5 248h.8M437.5 243h.8M444.5 248h.8M440.5 249h.8M443.5 248.5h.8M446.5 241.5h.8M437.5 245.5h.8M436.5 253.5h.8M442.5 248h.8M444.5 246h.8M444.5 246h.8M444.5 248.5h.8M446.5 241.5h.8M436.5 245h.8M437 248.5h.8M445 245.5h.8M446 249.5h.8M438.5 249h.8M447.5 245h.8M431 249.5h.8M442.5 249h.8M443 246.5h.8M440.5 244.5h.8M450 251h.8M440 244.5h.8M443 252h.8M441 244.5h.8M445 247.5h.8M437 246.5h.8M441.5 243.5h.8M442.5 251h.8M446 250.5h.8M444.5 246.5h.8M444 250.5h.8M441 248.5h.8M438 247h.8M438.5 243.5h.8M443 253.5h.8M433 246h.8M441.5 244.5h.8M442 249.5h.8M433.5 247h.8M443.5 248.5h.8M449 247h.8M446.5 245h.8M436.5 245.5h.8M439 250h.8M444.5 247h.8M437 247.5h.8M439 246h.8M433.5 252.5h.8M444 256h.8M453 246.5h.8M451 245h.8M453.5 246h.8M432.5 247.5h.8M445 252h.8M446 252h.8M441.5 242h.8M441.5 244h.8M444.5 240h.8M436 243.5h.8M441.5 250h.8M439.5 243h.8M438.5 246.5h.8M446.5 247h.8M446.5 237.5h.8M449.5 253.5h.8M439 255.5h.8M434 250.5h.8M435 245.5h.8M443.5 247.5h.8M442.5 246.5h.8M432 242.5h.8M437 244h.8M438.5 241.5h.8M440.5 248.5h.8M439 251.5h.8M442 250h.8M437 248h.8M434 241.5h.8M433 246.5h.8M442.5 253.5h.8M442.5 245.5h.8M446 247h.8M441 247.5h.8M446 252h.8M434.5 247.5h.8M439 247h.8M451.5 245.5h.8M430 250.5h.8M438.5 244h.8M451.5 252.5h.8M445.5 247.5h.8M438 252h.8M440 248h.8M440 247.5h.8M431.5 243.5h.8M434.5 240.5h.8M435.5 246h.8M440 247h.8M439 250.5h.8M431.5 246h.8M439.5 244.5h.8M447 246h.8M446 248.5h.8M440 250h.8M434 243.5h.8M438.5 239.5h.8M439 246.5h.8M432.5 244h.8M435.5 255h.8M447 248.5h.8M442 251h.8M441.5 251h.8M445.5 253.5h.8M445.5 245h.8M444 250.5h.8M444.5 253.5h.8M442 245.5h.8M445.5 250.5h.8M441 248.5h.8M441.5 248h.8M442.5 245.5h.8M444.5 248h.8M449 247.5h.8M441 243h.8M451.5 245.5h.8M438.5 246.5h.8M441 246.5h.8M448.5 245h.8M440 245.5h.8M443.5 241.5h.8M445.5 245.5h.8M435 252h.8M435 249.5h.8M441 245h.8M433 245h.8M444.5 246.5h.8M438.5 250h.8M441 247h.8M436.5 243h.8M439 248h.8M439 248h.8M439.5 246.5h.8M441 248h.8M430.5 247.5h.8M440 245.5h.8M445.5 250.5h.8M446.5 249h.8M443 247h.8M444.5 244.5h.8M440.5 248h.8M440 243h.8M440.5 245.5h.8M438 249h.8M446 247h.8M435.5 246.5h.8M440 243.5h.8M438 247.5h.8M438.5 248.5h.8M435 249.5h.8M438 247.5h.8M441 245.5h.8M445.5 241h.8M442 249h.8M440 247h.8M435.5 247h.8M441.5 245h.8M441 245.5h.8M436 247h.8M437.5 250h.8M437.5 251.5h.8M441 247h.8M437.5 248.5h.8M436 242.5h.8M442.5 240h.8M446 245h.8M448 247h.8M448 241.5h.8M439 248h.8M438.5 247.5h.8M440.5 249h.8M447 239.5h.8M443.5 243h.8M448 241.5h.8M437 248.5h.8M440.5 249h.8M442.5 244.5h.8M433.5 251h.8M440 246.5h.8M439.5 246h.8M437.5 247.5h.8M442 243h.8M433.5 249h.8M445 245h.8M440 245.5h.8M442.5 246.5h.8M438 244.5h.8M443 248h.8M439 248h.8M426.5 246.5h.8M441.5 240.5h.8M438 248h.8M447 247.5h.8M435.5 250h.8M440 249.5h.8M434 242h.8M433.5 249h.8M446.5 247h.8M441.5 246.5h.8M441.5 243.5h.8M447 249h.8M445.5 246.5h.8M445 249.5h.8M453 249.5h.8M437.5 244.5h.8M445 248h.8M443.5 247h.8M437 247.5h.8M434 248h.8M451.5 248.5h.8M436.5 244.5h.8M452 248h.8M438.5 249h.8M439 243.5h.8M441.5 248.5h.8M446.5 242.5h.8M447.5 245.5h.8M432 250.5h.8M445.5 248h.8M444.5 244h.8M443 241.5h.8M438.5 255h.8M448.5 247.5h.8M443.5 247h.8M444 247.5h.8M436.5 246h.8M432 245h.8M440 248h.8M451 241h.8M450.5 245h.8M439 246.5h.8M451 243h.8M439.5 248.5h.8M445.5 248h.8M441.5 250h.8M436.5 252h.8M438.5 248h.8M436.5 245h.8M445.5 248.5h.8M440 249.5h.8M455.5 238h.8M431.5 248h.8M433 250.5h.8M437 247h.8M437.5 253.5h.8M447.5 241h.8M444 245.5h.8M448 247.5h.8M437.5 245.5h.8M441.5 252h.8M441.5 245h.8M439.5 249.5h.8M440 252.5h.8M445 247h.8M441.5 246h.8M430 251.5h.8M448 245.5h.8M442 242.5h.8M440 247.5h.8M440.5 247h.8M446 249h.8M444.5 245h.8M438.5 247h.8M433 243h.8M442.5 247h.8M441.5 250.5h.8M431 249h.8M439.5 243h.8M444.5 251h.8M434 247.5h.8M445.5 246.5h.8M439 250h.8M433 247.5h.8M438 247h.8M435 248h.8M447 248h.8M435 245.5h.8M437 242.5h.8M444.5 248h.8M440.5 251.5h.8M444 245h.8M441 246.5h.8M441 251h.8M446.5 243.5h.8M450 241h.8M440.5 254.5h.8M444.5 250.5h.8M441.5 248.5h.8M438 251.5h.8M440 245.5h.8M434.5 254h.8M434 244h.8M443.5 247h.8M449.5 248.5h.8M442.5 244.5h.8M443 242h.8M437.5 251.5h.8M442 243h.8M438 246.5h.8M442.5 247.5h.8M444 237.5h.8M444 241h.8M439 247.5h.8M446 244.5h.8M434.5 245h.8M442.5 254.5h.8M435 245.5h.8M438 250.5h.8M443.5 246h.8M443 251.5h.8M439.5 243.5h.8M441 243h.8M442.5 249.5h.8M439.5 250h.8M447 252.5h.8M439.5 249h.8M445 249h.8M445.5 248h.8M444.5 249.5h.8M443.5 248.5h.8M442.5 246.5h.8M432.5 247.5h.8M441 245h.8M439 251h.8M439.5 240h.8M438.5 246.5h.8M447 247.5h.8M443.5 245h.8M438 242h.8M444 247h.8M437.5 247.5h.8M446.5 249.5h.8M445 250.5h.8M442 247h.8M441 248.5h.8M433 248.5h.8M441 244h.8M438.5 251h.8M439 247h.8M448 243.5h.8M441 245.5h.8M438.5 246.5h.8M443.5 246h.8M445.5 249h.8M436 247.5h.8M440 243h.8M433 250.5h.8M442.5 250.5h.8M448.5 249h.8M443 251h.8M440.5 246h.8M445.5 248.5h.8M438.5 246h.8M435.5 254h.8M439 245.5h.8M438 245.5h.8M441.5 247h.8M444 239h.8M442 252h.8M441 245h.8M450 244.5h.8M444.5 247.5h.8M440 244h.8M442 247.5h.8M449 241.5h.8M434 249h.8M433.5 238.5h.8M439.5 250.5h.8M432 243h.8M447.5 243.5h.8M437 246.5h.8M448.5 246h.8M444.5 246h.8M436 248h.8M433 250.5h.8M433.5 248h.8M431 247.5h.8M442.5 244.5h.8M450 246.5h.8M442.5 242h.8M438.5 248h.8M444.5 248.5h.8M434 243h.8M436 251h.8M432.5 243.5h.8M441.5 246.5h.8M440.5 244.5h.8M442.5 246.5h.8M440 247.5h.8M440 246.5h.8M446.5 249h.8M441.5 247.5h.8M447 242.5h.8M432 247.5h.8M433 244h.8M442 247.5h.8M439 244.5h.8M434 245h.8M437 247h.8M445 245.5h.8M436 248.5h.8M446.5 247.5h.8M439 246h.8M439.5 244h.8M445 245.5h.8M450 250h.8M439.5 255h.8M438.5 244.5h.8M433 247.5h.8M442.5 245.5h.8M440.5 248.5h.8M437.5 247h.8M440 251.5h.8M444 246.5h.8M436 247h.8M437 246h.8M443 249.5h.8M445.5 245h.8M442 247h.8M445.5 253.5h.8M446 249.5h.8M442 248.5h.8M432 248.5h.8M440.5 247h.8M445 256.5h.8M442 243h.8M439.5 249.5h.8M444.5 247.5h.8M443.5 244.5h.8M447.5 240h.8M439 244.5h.8M439 248h.8M441.5 250h.8M450 248h.8M436.5 247.5h.8M437.5 245h.8M439.5 250h.8M437.5 248h.8M437.5 250h.8M446 242h.8M444 244h.8M442.5 246.5h.8M444.5 243h.8M450 247.5h.8M438.5 251h.8M447.5 248h.8M438.5 244.5h.8M437 252h.8M441.5 247h.8M439.5 251h.8M439.5 249.5h.8M432.5 245h.8M442.5 244h.8M449.5 240h.8M443 248.5h.8M443 246.5h.8M441.5 258h.8M442 245h.8M429 253.5h.8M441.5 252.5h.8M441 250.5h.8M447 245h.8M430.5 251.5h.8M449.5 241.5h.8M438.5 247h.8M440 249h.8M440.5 249h.8M437 242.5h.8M449.5 247h.8M442.5 243.5h.8M443 246.5h.8M443.5 247h.8M446 251h.8M439.5 246h.8M444 242.5h.8M437.5 246h.8M432 253.5h.8M439.5 246.5h.8M435.5 249h.8M438.5 243.5h.8M443 251.5h.8M434 247.5h.8M451 245.5h.8M438 252h.8M442.5 250h.8M448.5 248.5h.8M443 253h.8M434 244h.8M440 245h.8M440 241h.8M433.5 249.5h.8M440 248.5h.8M439 247h.8M434.5 253h.8M445.5 242.5h.8M439 248h.8M439 247h.8M441.5 241h.8M444.5 248h.8M436.5 246.5h.8M440.5 246h.8M441 242.5h.8M441.5 248.5h.8M443 248h.8M438.5 247.5h.8M445.5 247h.8M442 247h.8M443 243h.8M441 249.5h.8M437 249h.8M439 246h.8M435.5 244.5h.8M446 242h.8M441.5 242.5h.8M450.5 248.5h.8M437 243.5h.8M440 248h.8M449 251h.8M436.5 248h.8M445 244.5h.8M439 250h.8M434.5 247.5h.8M440.5 246h.8M441 242h.8M444.5 245.5h.8M450.5 252.5h.8M439.5 253h.8M447.5 244h.8M440 251h.8M437.5 246h.8M429 243.5h.8M435.5 245h.8M437.5 248h.8M442 246h.8M435 248h.8M444 246.5h.8M447 245h.8M445 247.5h.8M447.5 251.5h.8M435.5 242h.8M446 247.5h.8M442.5 245.5h.8M438 251h.8M443 245h.8M441.5 248h.8M435 245.5h.8M443.5 247.5h.8M435 248.5h.8M450 248.5h.8M435 246h.8M438 245h.8M437 245.5h.8M440.5 243h.8M445.5 247.5h.8M450 249h.8M445.5 248.5h.8M440.5 243.5h.8M444 247h.8M438 248.5h.8M442.5 245h.8M447.5 245h.8M442 250.5h.8M438.5 246h.8M443 246h.8M438.5 243.5h.8M442 246h.8M445 250h.8M441 249.5h.8M438 252h.8M438.5 247h.8M439 245.5h.8M444.5 247h.8M437 249.5h.8M441.5 249h.8M442 245.5h.8M432.5 246.5h.8M437 251h.8M440.5 251.5h.8M452 250h.8M451.5 243.5h.8M438.5 244h.8M434.5 243.5h.8M445 244.5h.8M439.5 249h.8M439.5 252h.8M446.5 249h.8M448.5 248h.8M442 250.5h.8M445.5 242.5h.8M446.5 250h.8M431 254h.8M442 251.5h.8M435.5 248h.8M437.5 244.5h.8M442 242.5h.8M441 249h.8M437.5 244h.8M444 249.5h.8M445 245h.8M439.5 251.5h.8M445 248h.8M442 246.5h.8M444 249h.8M441.5 248h.8M434.5 247h.8M448.5 247h.8M434.5 246h.8M442 251.5h.8M451 246.5h.8M440.5 247.5h.8M436.5 251.5h.8M436 249.5h.8M438.5 244h.8M443 252h.8M435.5 248h.8M438 250.5h.8M434 243.5h.8M439 243.5h.8M445 242h.8M441 245.5h.8M445.5 245h.8M440.5 252.5h.8M444 250.5h.8M447.5 248h.8M442 242h.8M433 246.5h.8M442.5 250.5h.8M437.5 246.5h.8M450 243h.8M440 247h.8M438 252h.8M433.5 246.5h.8M433.5 245.5h.8M447.5 240.5h.8M433.5 247.5h.8M442.5 244.5h.8M443 246.5h.8M439.5 247.5h.8M446.5 243h.8M445 247.5h.8M440 245h.8M442.5 249.5h.8M437 249.5h.8M441.5 249.5h.8M442 246.5h.8M442 249h.8M434.5 247.5h.8M430 248.5h.8M439 247.5h.8M445.5 249.5h.8M447.5 249.5h.8M440 244.5h.8M452.5 244h.8M439.5 248.5h.8M437.5 248h.8M442 245.5h.8M436.5 247.5h.8M443 244h.8M441.5 247.5h.8M437 248.5h.8M435 250.5h.8M438 250.5h.8M441.5 247h.8M435 250h.8M436.5 254h.8M443 247.5h.8M441.5 249h.8M443 248h.8M445 246.5h.8M448 242h.8M433.5 249.5h.8M440.5 242.5h.8M435.5 245.5h.8M447 248.5h.8M433 243.5h.8M441.5 243.5h.8M438 245.5h.8M441.5 249h.8M437.5 245.5h.8M442.5 252h.8M443 246h.8M445 246.5h.8M435 249.5h.8M448 243h.8M444 243h.8M440.5 247h.8M439.5 247h.8M444 245.5h.8M440 246h.8M442 245h.8M444.5 248h.8M438 243.5h.8M440 250.5h.8M444 247h.8M450.5 251h.8M443.5 251h.8M440 246h.8M441.5 241h.8M441 245.5h.8M447.5 248.5h.8M448 245h.8M448 247h.8M443.5 248h.8M435.5 250.5h.8M439 249h.8M440.5 244h.8M439.5 248h.8M440 252.5h.8M446.5 247h.8M439.5 251.5h.8M441.5 250.5h.8M434.5 241.5h.8M444.5 249.5h.8M440.5 246.5h.8M443.5 248.5h.8M440.5 247h.8M442.5 250.5h.8M443.5 239h.8M442.5 246h.8M446 249h.8M438.5 247h.8M430.5 247.5h.8M436 248h.8M438 251h.8M447 245.5h.8M437.5 251.5h.8M435 246.5h.8M439.5 248h.8M441 244h.8M445 248h.8M443 252h.8M449.5 247h.8M439 246.5h.8M440.5 244h.8M437.5 245.5h.8M443.5 249h.8M429.5 243h.8M438 244h.8M440.5 241.5h.8M440 247.5h.8M442.5 245.5h.8M443 249h.8M439 244h.8M439 248h.8M442 242h.8M434 242.5h.8M449.5 248h.8M441.5 243.5h.8M432 254h.8M443.5 239.5h.8M448.5 247.5h.8M441 248h.8M444.5 240.5h.8M442 243h.8M439 246.5h.8M439 245h.8M441.5 246h.8M442.5 249.5h.8M437 246.5h.8M437.5 250h.8M444.5 250h.8M446 247h.8M436.5 245h.8M446.5 247h.8M444.5 245h.8M440.5 253h.8M445 242h.8M438 247.5h.8M446 249.5h.8M445 250.5h.8M444.5 249.5h.8M437 243.5h.8M439 251h.8M447 243.5h.8M440 247.5h.8M443.5 248h.8M448 247.5h.8M440 246.5h.8M434.5 247.5h.8M432 247.5h.8M425 244h.8M429 247h.8M433.5 247.5h.8M426.5 250.5h.8M428.5 253.5h.8M428 249h.8M427 252.5h.8M431.5 248h.8M429.5 244h.8M435.5 248h.8M435 246.5h.8M436 246.5h.8M430.5 253h.8M428 249h.8M429.5 249h.8M430.5 248h.8M432 247.5h.8M435.5 250h.8M425.5 247.5h.8M429 251h.8M422 251.5h.8M422 247.5h.8M426.5 248h.8M433.5 250.5h.8M429.5 248h.8M426 251.5h.8M428.5 255h.8M423.5 247.5h.8M433.5 252.5h.8M429 249.5h.8M427.5 249.5h.8M421.5 250.5h.8M428 249.5h.8M429.5 246.5h.8M423.5 247h.8M430 250.5h.8M435 250.5h.8M439 250.5h.8M437.5 250h.8M431 244.5h.8M434 248h.8M428.5 245.5h.8M435.5 248h.8M428 247h.8M430 249.5h.8M432.5 248.5h.8M431 248.5h.8M428.5 251.5h.8M429.5 247.5h.8M437 246h.8M428 249h.8M429.5 248.5h.8M434.5 250.5h.8M425 253.5h.8M425 246.5h.8M433 246h.8M425 251h.8M432.5 249.5h.8M436 250.5h.8M428 247.5h.8M432 247.5h.8M431.5 250.5h.8M431 245.5h.8M437 248h.8M431.5 244.5h.8M429.5 245.5h.8M436.5 247h.8M424.5 248.5h.8M426 249h.8M426 245h.8M429 248h.8M427 250.5h.8M433.5 248h.8M430 249.5h.8M434 248.5h.8M425.5 250.5h.8M440 249.5h.8M431.5 247h.8M424 250h.8M432.5 249.5h.8M431 251.5h.8M429.5 244.5h.8M429.5 249h.8M433.5 249.5h.8M433 249.5h.8M431 246h.8M429 251h.8M436.5 242h.8M429.5 247.5h.8M433.5 244h.8M428 249h.8M426.5 245h.8M438 247.5h.8M430.5 250h.8M438 246.5h.8M429.5 248h.8M434 250.5h.8M436.5 247h.8M425 247.5h.8M422 250h.8M421.5 250h.8M426 250h.8M436 248h.8M429.5 248.5h.8M427.5 249.5h.8M429 249h.8M427 250h.8M431.5 246.5h.8M429.5 245.5h.8M424 246.5h.8M431.5 247.5h.8M430 249h.8M429 248.5h.8M428 253.5h.8M426.5 250h.8M429.5 253h.8M425.5 248.5h.8M431.5 247.5h.8M439 248.5h.8M431.5 244.5h.8M431.5 245.5h.8M432.5 249.5h.8M429.5 247.5h.8M426.5 247.5h.8M436.5 246.5h.8M429 249.5h.8M424.5 248h.8M435 249h.8M432.5 250h.8M429.5 243h.8M433.5 249.5h.8M420 249h.8M435.5 245.5h.8M434 251.5h.8M429.5 248h.8M426 250.5h.8M431 250h.8M430 248.5h.8M427.5 251h.8M429.5 251.5h.8M433.5 246.5h.8M425.5 251.5h.8M431.5 247.5h.8M434 243.5h.8M432.5 247.5h.8M433 247h.8M428 250.5h.8M431.5 245h.8M432.5 250h.8M423 247h.8M425 246.5h.8M427.5 253h.8M425.5 246.5h.8M429 251.5h.8M428.5 251h.8M434 247.5h.8M432 251h.8M431 252h.8M432 252h.8M426 249.5h.8M420 246h.8M427.5 248h.8M429 250h.8M423.5 245h.8M433 249h.8M434 250h.8M431 247.5h.8M432 246.5h.8M424.5 248h.8M439 245.5h.8M435.5 248h.8M437 247h.8M425 247.5h.8M429.5 250h.8M427 249.5h.8M440 248h.8M433 254.5h.8M427 249h.8M428.5 249.5h.8M426.5 248h.8M433 248.5h.8M422 252h.8M432 253h.8M426.5 249.5h.8M426.5 250.5h.8M428 251.5h.8M430 243.5h.8M425.5 250.5h.8M433.5 250.5h.8M432 247.5h.8M430.5 248.5h.8M430 251h.8M426 248h.8M435.5 248h.8M432 247h.8M430.5 251.5h.8M436.5 248h.8M427.5 252h.8M422 248.5h.8M433.5 254h.8M434.5 248h.8M429.5 248.5h.8M426 248h.8M431 244.5h.8M426 242h.8M434 248.5h.8M423 245.5h.8M427.5 252.5h.8M432 246h.8M427.5 245h.8M425.5 245h.8M437.5 249.5h.8M435.5 249h.8M427 251h.8M432 247h.8M423 249h.8M425 248.5h.8M421 245h.8M434 249.5h.8M430.5 248h.8M430.5 246.5h.8M433.5 252h.8M427 245h.8M429.5 244.5h.8M438 247.5h.8M431.5 249h.8M427.5 247h.8M426 253.5h.8" stroke="#111" stroke-width="0.8" fill="none"/>
<text x="0" y="0" font-size="9.9" text-anchor="end" class="b" fill="#111" transform="translate(463.2 275.5) scale(0.94 1)">82%</text>
</g>
<text x="475" y="97.3" font-size="10.2" text-anchor="middle" class="b" fill="#111">0</text>
<text x="478" y="176.6" font-size="10.2" text-anchor="middle" class="b" fill="#111">20</text>
<text x="478" y="256" font-size="10.2" text-anchor="middle" class="b" fill="#111">30</text>
<line x1="486.2" y1="75.6" x2="486.2" y2="277" class="th"/>
<text x="492.6" y="175.75" font-size="10.6" text-anchor="middle" class="b" fill="#111" transform="rotate(90 492.6 175.75)">Lipoplatin (µmol/L)</text>
<line x1="310.75" y1="67.5" x2="310.75" y2="138.3" class="th"/>
<line x1="310.75" y1="190" x2="310.75" y2="264" class="th"/>
<text x="314.4" y="168.3" font-size="10.2" text-anchor="middle" class="b" fill="#111" transform="rotate(-90 314.4 168.3)">SSC</text>
<line x1="335.75" y1="299.4" x2="377.5" y2="299.4" class="th"/>
<line x1="416.25" y1="299.4" x2="459.5" y2="299.4" class="th"/>
<text x="397.5" y="304.4" font-size="10.8" text-anchor="middle" class="b" fill="#111">ROS</text>
</svg></body></html>
